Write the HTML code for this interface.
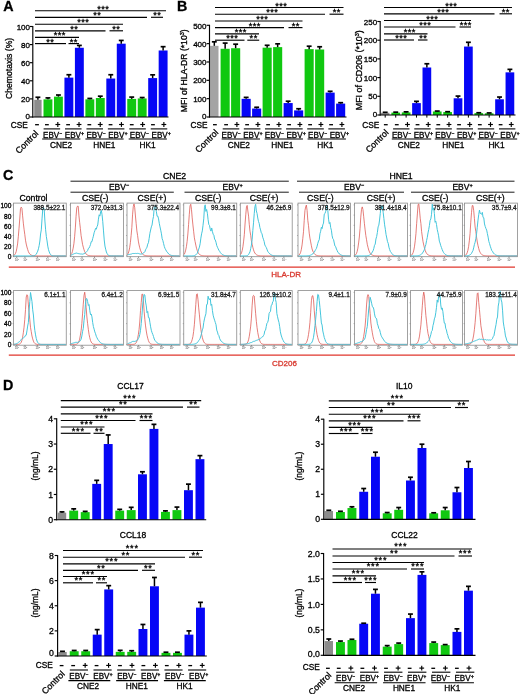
<!DOCTYPE html>
<html lang="en">
<head>
<meta charset="utf-8">
<title>Figure</title>
<style>
html,body{margin:0;padding:0;background:#fff;}
body{width:520px;height:694px;overflow:hidden;}
svg{display:block;}
svg text{font-family:"Liberation Sans",sans-serif;stroke-width:0.3px;stroke:#000;}
</style>
</head>
<body>
<svg width="520" height="694" viewBox="0 0 520 694" fill="#000" stroke="none">
<rect x="0" y="0" width="520" height="694" fill="#ffffff"/>
<text x="3.2" y="10.7" font-size="14.3" font-weight="bold">A</text>
<rect x="34.2" y="99.81" width="7.4" height="17.2" fill="#8c8c8c"/>
<line x1="37.9" y1="99.81" x2="37.9" y2="97.27" stroke="#000000" stroke-width="1.5"/>
<line x1="35.45" y1="97.27" x2="40.35" y2="97.27" stroke="#000000" stroke-width="1.7"/>
<rect x="43.5" y="99.35" width="8.9" height="17.65" fill="#10c810"/>
<line x1="47.95" y1="99.35" x2="47.95" y2="97.9" stroke="#000000" stroke-width="1.5"/>
<line x1="45.5" y1="97.9" x2="50.4" y2="97.9" stroke="#000000" stroke-width="1.7"/>
<rect x="53.97" y="96.64" width="8.9" height="20.36" fill="#10c810"/>
<line x1="58.42" y1="96.64" x2="58.42" y2="95.01" stroke="#000000" stroke-width="1.5"/>
<line x1="55.97" y1="95.01" x2="60.87" y2="95.01" stroke="#000000" stroke-width="1.7"/>
<rect x="64.44" y="77.63" width="8.9" height="39.37" fill="#0606f6"/>
<line x1="68.89" y1="77.63" x2="68.89" y2="74.74" stroke="#000000" stroke-width="1.5"/>
<line x1="66.44" y1="74.74" x2="71.34" y2="74.74" stroke="#000000" stroke-width="1.7"/>
<rect x="74.91" y="47.77" width="8.9" height="69.23" fill="#0606f6"/>
<line x1="79.36" y1="47.77" x2="79.36" y2="45.41" stroke="#000000" stroke-width="1.5"/>
<line x1="76.91" y1="45.41" x2="81.81" y2="45.41" stroke="#000000" stroke-width="1.7"/>
<rect x="85.38" y="99.35" width="8.9" height="17.65" fill="#10c810"/>
<line x1="89.83" y1="99.35" x2="89.83" y2="98.45" stroke="#000000" stroke-width="1.5"/>
<line x1="87.38" y1="98.45" x2="92.28" y2="98.45" stroke="#000000" stroke-width="1.7"/>
<rect x="95.85" y="98" width="8.9" height="19" fill="#10c810"/>
<line x1="100.3" y1="98" x2="100.3" y2="96.19" stroke="#000000" stroke-width="1.5"/>
<line x1="97.85" y1="96.19" x2="102.75" y2="96.19" stroke="#000000" stroke-width="1.7"/>
<rect x="106.32" y="78.54" width="8.9" height="38.46" fill="#0606f6"/>
<line x1="110.77" y1="78.54" x2="110.77" y2="74.74" stroke="#000000" stroke-width="1.5"/>
<line x1="108.32" y1="74.74" x2="113.22" y2="74.74" stroke="#000000" stroke-width="1.7"/>
<rect x="116.79" y="43.69" width="8.9" height="73.31" fill="#0606f6"/>
<line x1="121.24" y1="43.69" x2="121.24" y2="40.44" stroke="#000000" stroke-width="1.5"/>
<line x1="118.79" y1="40.44" x2="123.69" y2="40.44" stroke="#000000" stroke-width="1.7"/>
<rect x="127.26" y="98.9" width="8.9" height="18.1" fill="#10c810"/>
<line x1="131.71" y1="98.9" x2="131.71" y2="97.09" stroke="#000000" stroke-width="1.5"/>
<line x1="129.26" y1="97.09" x2="134.16" y2="97.09" stroke="#000000" stroke-width="1.7"/>
<rect x="137.73" y="98.45" width="8.9" height="18.55" fill="#10c810"/>
<line x1="142.18" y1="98.45" x2="142.18" y2="97.54" stroke="#000000" stroke-width="1.5"/>
<line x1="139.73" y1="97.54" x2="144.63" y2="97.54" stroke="#000000" stroke-width="1.7"/>
<rect x="148.2" y="78.09" width="8.9" height="38.91" fill="#0606f6"/>
<line x1="152.65" y1="78.09" x2="152.65" y2="74.83" stroke="#000000" stroke-width="1.5"/>
<line x1="150.2" y1="74.83" x2="155.1" y2="74.83" stroke="#000000" stroke-width="1.7"/>
<rect x="158.67" y="50.48" width="8.9" height="66.52" fill="#0606f6"/>
<line x1="163.12" y1="50.48" x2="163.12" y2="46.68" stroke="#000000" stroke-width="1.5"/>
<line x1="160.67" y1="46.68" x2="165.57" y2="46.68" stroke="#000000" stroke-width="1.7"/>
<line x1="32.8" y1="26" x2="32.8" y2="117.5" stroke="#000000" stroke-width="1.15"/>
<line x1="32.3" y1="117" x2="168.5" y2="117" stroke="#000000" stroke-width="1.15"/>
<line x1="29.9" y1="117" x2="32.8" y2="117" stroke="#000000" stroke-width="1.15"/>
<text x="30" y="118.7" font-size="8" text-anchor="end">0</text>
<line x1="29.9" y1="98.9" x2="32.8" y2="98.9" stroke="#000000" stroke-width="1.15"/>
<text x="30" y="101.8" font-size="8" text-anchor="end">20</text>
<line x1="29.9" y1="80.8" x2="32.8" y2="80.8" stroke="#000000" stroke-width="1.15"/>
<text x="30" y="83.7" font-size="8" text-anchor="end">40</text>
<line x1="29.9" y1="62.7" x2="32.8" y2="62.7" stroke="#000000" stroke-width="1.15"/>
<text x="30" y="65.6" font-size="8" text-anchor="end">60</text>
<line x1="29.9" y1="44.6" x2="32.8" y2="44.6" stroke="#000000" stroke-width="1.15"/>
<text x="30" y="47.5" font-size="8" text-anchor="end">80</text>
<line x1="29.9" y1="26.5" x2="32.8" y2="26.5" stroke="#000000" stroke-width="1.15"/>
<text x="30" y="30.4" font-size="8" text-anchor="end">100</text>
<text x="11.7" y="68.4" font-size="8.6" text-anchor="middle" transform="rotate(-90 11.7 68.4)">Chemotaxis (%)</text>
<line x1="35" y1="10.7" x2="166" y2="10.7" stroke="#000000" stroke-width="1.15"/>
<text x="103.25" y="11.7" font-size="9.2" text-anchor="middle" letter-spacing="0.5">***</text>
<line x1="35" y1="17.3" x2="147" y2="17.3" stroke="#000000" stroke-width="1.15"/>
<text x="97.25" y="18.3" font-size="9.2" text-anchor="middle" letter-spacing="0.5">**</text>
<line x1="151" y1="17.3" x2="163" y2="17.3" stroke="#000000" stroke-width="1.15"/>
<text x="157.25" y="18.3" font-size="9.2" text-anchor="middle" letter-spacing="0.5">**</text>
<line x1="35" y1="24.2" x2="123" y2="24.2" stroke="#000000" stroke-width="1.15"/>
<text x="83.25" y="25.2" font-size="9.2" text-anchor="middle" letter-spacing="0.5">***</text>
<line x1="35" y1="30.8" x2="105.5" y2="30.8" stroke="#000000" stroke-width="1.15"/>
<text x="74.25" y="31.8" font-size="9.2" text-anchor="middle" letter-spacing="0.5">**</text>
<line x1="109.5" y1="30.8" x2="123" y2="30.8" stroke="#000000" stroke-width="1.15"/>
<text x="116.25" y="31.8" font-size="9.2" text-anchor="middle" letter-spacing="0.5">**</text>
<line x1="35" y1="37.4" x2="79" y2="37.4" stroke="#000000" stroke-width="1.15"/>
<text x="59.75" y="38.4" font-size="9.2" text-anchor="middle" letter-spacing="0.5">***</text>
<line x1="35" y1="43.6" x2="66" y2="43.6" stroke="#000000" stroke-width="1.15"/>
<text x="50.25" y="44.6" font-size="9.2" text-anchor="middle" letter-spacing="0.5">**</text>
<line x1="68.5" y1="43.6" x2="79" y2="43.6" stroke="#000000" stroke-width="1.15"/>
<text x="73.75" y="44.6" font-size="9.2" text-anchor="middle" letter-spacing="0.5">**</text>
<text x="27.9" y="127.5" font-size="8.3" text-anchor="end">CSE</text>
<line x1="35.1" y1="124.7" x2="38.9" y2="124.7" stroke="#000000" stroke-width="1.3"/>
<line x1="45" y1="124.7" x2="48.8" y2="124.7" stroke="#000000" stroke-width="1.3"/>
<line x1="55.41" y1="124.5" x2="60.21" y2="124.5" stroke="#000000" stroke-width="1.15"/>
<line x1="57.81" y1="122.1" x2="57.81" y2="126.9" stroke="#000000" stroke-width="1.15"/>
<line x1="66.21" y1="124.7" x2="70.01" y2="124.7" stroke="#000000" stroke-width="1.3"/>
<line x1="76.62" y1="124.5" x2="81.42" y2="124.5" stroke="#000000" stroke-width="1.15"/>
<line x1="79.02" y1="122.1" x2="79.02" y2="126.9" stroke="#000000" stroke-width="1.15"/>
<line x1="87.42" y1="124.7" x2="91.22" y2="124.7" stroke="#000000" stroke-width="1.3"/>
<line x1="97.83" y1="124.5" x2="102.63" y2="124.5" stroke="#000000" stroke-width="1.15"/>
<line x1="100.23" y1="122.1" x2="100.23" y2="126.9" stroke="#000000" stroke-width="1.15"/>
<line x1="108.64" y1="124.7" x2="112.44" y2="124.7" stroke="#000000" stroke-width="1.3"/>
<line x1="119.04" y1="124.5" x2="123.84" y2="124.5" stroke="#000000" stroke-width="1.15"/>
<line x1="121.44" y1="122.1" x2="121.44" y2="126.9" stroke="#000000" stroke-width="1.15"/>
<line x1="129.85" y1="124.7" x2="133.65" y2="124.7" stroke="#000000" stroke-width="1.3"/>
<line x1="140.25" y1="124.5" x2="145.05" y2="124.5" stroke="#000000" stroke-width="1.15"/>
<line x1="142.65" y1="122.1" x2="142.65" y2="126.9" stroke="#000000" stroke-width="1.15"/>
<line x1="151.06" y1="124.7" x2="154.86" y2="124.7" stroke="#000000" stroke-width="1.3"/>
<line x1="161.47" y1="124.5" x2="166.27" y2="124.5" stroke="#000000" stroke-width="1.15"/>
<line x1="163.87" y1="122.1" x2="163.87" y2="126.9" stroke="#000000" stroke-width="1.15"/>
<line x1="43.6" y1="128.9" x2="60.14" y2="128.9" stroke="#000000" stroke-width="1.1"/>
<text x="43.05" y="137.8" font-size="8.2" textLength="16.2" lengthAdjust="spacingAndGlyphs">EBV</text>
<text x="59.55" y="134.6" font-size="4.6" font-weight="bold">−</text>
<line x1="65.02" y1="128.9" x2="81.56" y2="128.9" stroke="#000000" stroke-width="1.1"/>
<text x="64.74" y="137.8" font-size="8.2" textLength="16.2" lengthAdjust="spacingAndGlyphs">EBV</text>
<text x="81.24" y="134.6" font-size="4.6" font-weight="bold">+</text>
<line x1="86.44" y1="128.9" x2="102.99" y2="128.9" stroke="#000000" stroke-width="1.1"/>
<text x="86.44" y="137.8" font-size="8.2" textLength="16.2" lengthAdjust="spacingAndGlyphs">EBV</text>
<text x="102.94" y="134.6" font-size="4.6" font-weight="bold">−</text>
<line x1="107.86" y1="128.9" x2="124.41" y2="128.9" stroke="#000000" stroke-width="1.1"/>
<text x="108.13" y="137.8" font-size="8.2" textLength="16.2" lengthAdjust="spacingAndGlyphs">EBV</text>
<text x="124.63" y="134.6" font-size="4.6" font-weight="bold">+</text>
<line x1="129.29" y1="128.9" x2="145.83" y2="128.9" stroke="#000000" stroke-width="1.1"/>
<text x="129.83" y="137.8" font-size="8.2" textLength="16.2" lengthAdjust="spacingAndGlyphs">EBV</text>
<text x="146.33" y="134.6" font-size="4.6" font-weight="bold">−</text>
<line x1="150.71" y1="128.9" x2="167.25" y2="128.9" stroke="#000000" stroke-width="1.1"/>
<text x="151.52" y="137.8" font-size="8.2" textLength="16.2" lengthAdjust="spacingAndGlyphs">EBV</text>
<text x="168.02" y="134.6" font-size="4.6" font-weight="bold">+</text>
<line x1="42.15" y1="139" x2="80.37" y2="139" stroke="#000000" stroke-width="1.1"/>
<text x="61.09" y="148.2" font-size="8.3" text-anchor="middle">CNE2</text>
<line x1="85.41" y1="139" x2="123.63" y2="139" stroke="#000000" stroke-width="1.1"/>
<text x="104.35" y="148.2" font-size="8.3" text-anchor="middle">HNE1</text>
<line x1="128.67" y1="139" x2="166.89" y2="139" stroke="#000000" stroke-width="1.1"/>
<text x="147.61" y="148.2" font-size="8.3" text-anchor="middle">HK1</text>
<text x="39" y="134.2" font-size="8.8" text-anchor="end" transform="rotate(-45 39 134.2)">Control</text>
<text x="177" y="10.6" font-size="14.3" font-weight="bold">B</text>
<rect x="210.1" y="45.84" width="8.4" height="71.16" fill="#a4a4a4"/>
<line x1="214.3" y1="45.84" x2="214.3" y2="41.81" stroke="#000000" stroke-width="1.5"/>
<line x1="211.85" y1="41.81" x2="216.75" y2="41.81" stroke="#000000" stroke-width="1.7"/>
<rect x="220.6" y="48.78" width="9.1" height="68.22" fill="#10c810"/>
<line x1="225.15" y1="48.78" x2="225.15" y2="43.09" stroke="#000000" stroke-width="1.5"/>
<line x1="222.7" y1="43.09" x2="227.6" y2="43.09" stroke="#000000" stroke-width="1.7"/>
<rect x="231.1" y="48.22" width="9.1" height="68.78" fill="#10c810"/>
<line x1="235.65" y1="48.22" x2="235.65" y2="44.19" stroke="#000000" stroke-width="1.5"/>
<line x1="233.2" y1="44.19" x2="238.1" y2="44.19" stroke="#000000" stroke-width="1.7"/>
<rect x="241.6" y="98.84" width="9.1" height="18.16" fill="#0606f6"/>
<line x1="246.15" y1="98.84" x2="246.15" y2="97.38" stroke="#000000" stroke-width="1.5"/>
<line x1="243.7" y1="97.38" x2="248.6" y2="97.38" stroke="#000000" stroke-width="1.7"/>
<rect x="252.1" y="108.56" width="9.1" height="8.44" fill="#0606f6"/>
<line x1="256.65" y1="108.56" x2="256.65" y2="107.28" stroke="#000000" stroke-width="1.5"/>
<line x1="254.2" y1="107.28" x2="259.1" y2="107.28" stroke="#000000" stroke-width="1.7"/>
<rect x="262.6" y="47.67" width="9.1" height="69.33" fill="#10c810"/>
<line x1="267.15" y1="47.67" x2="267.15" y2="45.29" stroke="#000000" stroke-width="1.5"/>
<line x1="264.7" y1="45.29" x2="269.6" y2="45.29" stroke="#000000" stroke-width="1.7"/>
<rect x="273.1" y="47.12" width="9.1" height="69.88" fill="#10c810"/>
<line x1="277.65" y1="47.12" x2="277.65" y2="43.82" stroke="#000000" stroke-width="1.5"/>
<line x1="275.2" y1="43.82" x2="280.1" y2="43.82" stroke="#000000" stroke-width="1.7"/>
<rect x="283.6" y="103.06" width="9.1" height="13.94" fill="#0606f6"/>
<line x1="288.15" y1="103.06" x2="288.15" y2="101.23" stroke="#000000" stroke-width="1.5"/>
<line x1="285.7" y1="101.23" x2="290.6" y2="101.23" stroke="#000000" stroke-width="1.7"/>
<rect x="294.1" y="110.4" width="9.1" height="6.6" fill="#0606f6"/>
<line x1="298.65" y1="110.4" x2="298.65" y2="108.75" stroke="#000000" stroke-width="1.5"/>
<line x1="296.2" y1="108.75" x2="301.1" y2="108.75" stroke="#000000" stroke-width="1.7"/>
<rect x="304.6" y="49.14" width="9.1" height="67.86" fill="#10c810"/>
<line x1="309.15" y1="49.14" x2="309.15" y2="46.21" stroke="#000000" stroke-width="1.5"/>
<line x1="306.7" y1="46.21" x2="311.6" y2="46.21" stroke="#000000" stroke-width="1.7"/>
<rect x="315.1" y="49.51" width="9.1" height="67.49" fill="#10c810"/>
<line x1="319.65" y1="49.51" x2="319.65" y2="46.76" stroke="#000000" stroke-width="1.5"/>
<line x1="317.2" y1="46.76" x2="322.1" y2="46.76" stroke="#000000" stroke-width="1.7"/>
<rect x="325.6" y="92.61" width="9.1" height="24.39" fill="#0606f6"/>
<line x1="330.15" y1="92.61" x2="330.15" y2="91.32" stroke="#000000" stroke-width="1.5"/>
<line x1="327.7" y1="91.32" x2="332.6" y2="91.32" stroke="#000000" stroke-width="1.7"/>
<rect x="336.1" y="103.61" width="9.1" height="13.39" fill="#0606f6"/>
<line x1="340.65" y1="103.61" x2="340.65" y2="102.69" stroke="#000000" stroke-width="1.5"/>
<line x1="338.2" y1="102.69" x2="343.1" y2="102.69" stroke="#000000" stroke-width="1.7"/>
<line x1="209.5" y1="24.8" x2="209.5" y2="117.5" stroke="#000000" stroke-width="1.15"/>
<line x1="209" y1="117" x2="346.5" y2="117" stroke="#000000" stroke-width="1.15"/>
<line x1="206.6" y1="117" x2="209.5" y2="117" stroke="#000000" stroke-width="1.15"/>
<text x="206.5" y="118.7" font-size="8" text-anchor="end">0</text>
<line x1="206.6" y1="98.66" x2="209.5" y2="98.66" stroke="#000000" stroke-width="1.15"/>
<text x="206.5" y="101.56" font-size="8" text-anchor="end">100</text>
<line x1="206.6" y1="80.32" x2="209.5" y2="80.32" stroke="#000000" stroke-width="1.15"/>
<text x="206.5" y="83.22" font-size="8" text-anchor="end">200</text>
<line x1="206.6" y1="61.98" x2="209.5" y2="61.98" stroke="#000000" stroke-width="1.15"/>
<text x="206.5" y="64.88" font-size="8" text-anchor="end">300</text>
<line x1="206.6" y1="43.64" x2="209.5" y2="43.64" stroke="#000000" stroke-width="1.15"/>
<text x="206.5" y="46.54" font-size="8" text-anchor="end">400</text>
<line x1="206.6" y1="25.3" x2="209.5" y2="25.3" stroke="#000000" stroke-width="1.15"/>
<text x="206.5" y="29.2" font-size="8" text-anchor="end">500</text>
<text x="186.8" y="70.8" font-size="8.6" text-anchor="middle" transform="rotate(-90 186.8 70.8)">MFI of HLA-DR (*10<tspan font-size="5.5" dy="-3">3</tspan><tspan dy="3">)</tspan></text>
<line x1="215" y1="7.5" x2="343.5" y2="7.5" stroke="#000000" stroke-width="1.15"/>
<text x="281.25" y="8.5" font-size="9.2" text-anchor="middle" letter-spacing="0.5">***</text>
<line x1="215" y1="14.2" x2="325" y2="14.2" stroke="#000000" stroke-width="1.15"/>
<text x="272.25" y="15.2" font-size="9.2" text-anchor="middle" letter-spacing="0.5">***</text>
<line x1="329.5" y1="14.2" x2="343.5" y2="14.2" stroke="#000000" stroke-width="1.15"/>
<text x="336.75" y="15.2" font-size="9.2" text-anchor="middle" letter-spacing="0.5">**</text>
<line x1="215" y1="21" x2="302.5" y2="21" stroke="#000000" stroke-width="1.15"/>
<text x="262.25" y="22" font-size="9.2" text-anchor="middle" letter-spacing="0.5">***</text>
<line x1="215" y1="27.6" x2="284" y2="27.6" stroke="#000000" stroke-width="1.15"/>
<text x="254.75" y="28.6" font-size="9.2" text-anchor="middle" letter-spacing="0.5">***</text>
<line x1="288.5" y1="27.6" x2="302.5" y2="27.6" stroke="#000000" stroke-width="1.15"/>
<text x="295.75" y="28.6" font-size="9.2" text-anchor="middle" letter-spacing="0.5">**</text>
<line x1="215" y1="33.8" x2="259" y2="33.8" stroke="#000000" stroke-width="1.15"/>
<text x="240.75" y="34.8" font-size="9.2" text-anchor="middle" letter-spacing="0.5">***</text>
<line x1="215" y1="40.2" x2="244.5" y2="40.2" stroke="#000000" stroke-width="1.15"/>
<text x="232.25" y="41.2" font-size="9.2" text-anchor="middle" letter-spacing="0.5">***</text>
<line x1="247.3" y1="40.2" x2="259.2" y2="40.2" stroke="#000000" stroke-width="1.15"/>
<text x="253.65" y="41.2" font-size="9.2" text-anchor="middle" letter-spacing="0.5">**</text>
<text x="207.5" y="127.5" font-size="8.3" text-anchor="end">CSE</text>
<line x1="213" y1="124.7" x2="216.8" y2="124.7" stroke="#000000" stroke-width="1.3"/>
<line x1="224.2" y1="124.7" x2="228" y2="124.7" stroke="#000000" stroke-width="1.3"/>
<line x1="234.5" y1="124.5" x2="239.3" y2="124.5" stroke="#000000" stroke-width="1.15"/>
<line x1="236.9" y1="122.1" x2="236.9" y2="126.9" stroke="#000000" stroke-width="1.15"/>
<line x1="245.2" y1="124.7" x2="249" y2="124.7" stroke="#000000" stroke-width="1.3"/>
<line x1="255.5" y1="124.5" x2="260.3" y2="124.5" stroke="#000000" stroke-width="1.15"/>
<line x1="257.9" y1="122.1" x2="257.9" y2="126.9" stroke="#000000" stroke-width="1.15"/>
<line x1="266.2" y1="124.7" x2="270" y2="124.7" stroke="#000000" stroke-width="1.3"/>
<line x1="276.5" y1="124.5" x2="281.3" y2="124.5" stroke="#000000" stroke-width="1.15"/>
<line x1="278.9" y1="122.1" x2="278.9" y2="126.9" stroke="#000000" stroke-width="1.15"/>
<line x1="287.2" y1="124.7" x2="291" y2="124.7" stroke="#000000" stroke-width="1.3"/>
<line x1="297.5" y1="124.5" x2="302.3" y2="124.5" stroke="#000000" stroke-width="1.15"/>
<line x1="299.9" y1="122.1" x2="299.9" y2="126.9" stroke="#000000" stroke-width="1.15"/>
<line x1="308.2" y1="124.7" x2="312" y2="124.7" stroke="#000000" stroke-width="1.3"/>
<line x1="318.5" y1="124.5" x2="323.3" y2="124.5" stroke="#000000" stroke-width="1.15"/>
<line x1="320.9" y1="122.1" x2="320.9" y2="126.9" stroke="#000000" stroke-width="1.15"/>
<line x1="329.2" y1="124.7" x2="333" y2="124.7" stroke="#000000" stroke-width="1.3"/>
<line x1="339.5" y1="124.5" x2="344.3" y2="124.5" stroke="#000000" stroke-width="1.15"/>
<line x1="341.9" y1="122.1" x2="341.9" y2="126.9" stroke="#000000" stroke-width="1.15"/>
<line x1="222.7" y1="128.9" x2="239.29" y2="128.9" stroke="#000000" stroke-width="1.1"/>
<text x="221.5" y="137.8" font-size="8.2" textLength="16.2" lengthAdjust="spacingAndGlyphs">EBV</text>
<text x="238" y="134.6" font-size="4.6" font-weight="bold">−</text>
<line x1="243.83" y1="128.9" x2="260.42" y2="128.9" stroke="#000000" stroke-width="1.1"/>
<text x="243.13" y="137.8" font-size="8.2" textLength="16.2" lengthAdjust="spacingAndGlyphs">EBV</text>
<text x="259.63" y="134.6" font-size="4.6" font-weight="bold">+</text>
<line x1="264.95" y1="128.9" x2="281.54" y2="128.9" stroke="#000000" stroke-width="1.1"/>
<text x="264.76" y="137.8" font-size="8.2" textLength="16.2" lengthAdjust="spacingAndGlyphs">EBV</text>
<text x="281.26" y="134.6" font-size="4.6" font-weight="bold">−</text>
<line x1="286.08" y1="128.9" x2="302.67" y2="128.9" stroke="#000000" stroke-width="1.1"/>
<text x="286.39" y="137.8" font-size="8.2" textLength="16.2" lengthAdjust="spacingAndGlyphs">EBV</text>
<text x="302.89" y="134.6" font-size="4.6" font-weight="bold">+</text>
<line x1="307.2" y1="128.9" x2="323.79" y2="128.9" stroke="#000000" stroke-width="1.1"/>
<text x="308.02" y="137.8" font-size="8.2" textLength="16.2" lengthAdjust="spacingAndGlyphs">EBV</text>
<text x="324.52" y="134.6" font-size="4.6" font-weight="bold">−</text>
<line x1="328.33" y1="128.9" x2="344.92" y2="128.9" stroke="#000000" stroke-width="1.1"/>
<text x="329.65" y="137.8" font-size="8.2" textLength="16.2" lengthAdjust="spacingAndGlyphs">EBV</text>
<text x="346.15" y="134.6" font-size="4.6" font-weight="bold">+</text>
<line x1="221.65" y1="139" x2="259.98" y2="139" stroke="#000000" stroke-width="1.1"/>
<text x="238.74" y="148.2" font-size="8.3" text-anchor="middle">CNE2</text>
<line x1="264.62" y1="139" x2="302.94" y2="139" stroke="#000000" stroke-width="1.1"/>
<text x="282.31" y="148.2" font-size="8.3" text-anchor="middle">HNE1</text>
<line x1="307.58" y1="139" x2="345.91" y2="139" stroke="#000000" stroke-width="1.1"/>
<text x="325.27" y="148.2" font-size="8.3" text-anchor="middle">HK1</text>
<text x="218.8" y="133.2" font-size="8.8" text-anchor="end" transform="rotate(-45 218.8 133.2)">Control</text>
<rect x="381" y="112.76" width="8.4" height="2.24" fill="#8c8c8c"/>
<line x1="385.2" y1="112.76" x2="385.2" y2="112.31" stroke="#000000" stroke-width="1.5"/>
<line x1="382.75" y1="112.31" x2="387.65" y2="112.31" stroke="#000000" stroke-width="1.7"/>
<rect x="391.38" y="112.61" width="8.7" height="2.39" fill="#10c810"/>
<line x1="395.73" y1="112.61" x2="395.73" y2="112.16" stroke="#000000" stroke-width="1.5"/>
<line x1="393.28" y1="112.16" x2="398.18" y2="112.16" stroke="#000000" stroke-width="1.7"/>
<rect x="401.76" y="112.42" width="8.7" height="2.58" fill="#10c810"/>
<line x1="406.11" y1="112.42" x2="406.11" y2="111.86" stroke="#000000" stroke-width="1.5"/>
<line x1="403.66" y1="111.86" x2="408.56" y2="111.86" stroke="#000000" stroke-width="1.7"/>
<rect x="412.14" y="103.11" width="8.7" height="11.89" fill="#0606f6"/>
<line x1="416.49" y1="103.11" x2="416.49" y2="101.35" stroke="#000000" stroke-width="1.5"/>
<line x1="414.04" y1="101.35" x2="418.94" y2="101.35" stroke="#000000" stroke-width="1.7"/>
<rect x="422.52" y="67.5" width="8.7" height="47.5" fill="#0606f6"/>
<line x1="426.87" y1="67.5" x2="426.87" y2="63.76" stroke="#000000" stroke-width="1.5"/>
<line x1="424.42" y1="63.76" x2="429.32" y2="63.76" stroke="#000000" stroke-width="1.7"/>
<rect x="432.9" y="111.48" width="8.7" height="3.52" fill="#10c810"/>
<line x1="437.25" y1="111.48" x2="437.25" y2="111.07" stroke="#000000" stroke-width="1.5"/>
<line x1="434.8" y1="111.07" x2="439.7" y2="111.07" stroke="#000000" stroke-width="1.7"/>
<rect x="443.28" y="112.05" width="8.7" height="2.95" fill="#10c810"/>
<line x1="447.63" y1="112.05" x2="447.63" y2="111.71" stroke="#000000" stroke-width="1.5"/>
<line x1="445.18" y1="111.71" x2="450.08" y2="111.71" stroke="#000000" stroke-width="1.7"/>
<rect x="453.66" y="98.28" width="8.7" height="16.72" fill="#0606f6"/>
<line x1="458.01" y1="98.28" x2="458.01" y2="96.08" stroke="#000000" stroke-width="1.5"/>
<line x1="455.56" y1="96.08" x2="460.46" y2="96.08" stroke="#000000" stroke-width="1.7"/>
<rect x="464.04" y="46.56" width="8.7" height="68.44" fill="#0606f6"/>
<line x1="468.39" y1="46.56" x2="468.39" y2="42.29" stroke="#000000" stroke-width="1.5"/>
<line x1="465.94" y1="42.29" x2="470.84" y2="42.29" stroke="#000000" stroke-width="1.7"/>
<rect x="474.42" y="113.13" width="8.7" height="1.87" fill="#10c810"/>
<line x1="478.77" y1="113.13" x2="478.77" y2="112.76" stroke="#000000" stroke-width="1.5"/>
<line x1="476.32" y1="112.76" x2="481.22" y2="112.76" stroke="#000000" stroke-width="1.7"/>
<rect x="484.8" y="113.32" width="8.7" height="1.68" fill="#10c810"/>
<line x1="489.15" y1="113.32" x2="489.15" y2="112.94" stroke="#000000" stroke-width="1.5"/>
<line x1="486.7" y1="112.94" x2="491.6" y2="112.94" stroke="#000000" stroke-width="1.7"/>
<rect x="495.18" y="99.29" width="8.7" height="15.71" fill="#0606f6"/>
<line x1="499.53" y1="99.29" x2="499.53" y2="97.05" stroke="#000000" stroke-width="1.5"/>
<line x1="497.08" y1="97.05" x2="501.98" y2="97.05" stroke="#000000" stroke-width="1.7"/>
<rect x="505.56" y="72.36" width="8.7" height="42.64" fill="#0606f6"/>
<line x1="509.91" y1="72.36" x2="509.91" y2="69.37" stroke="#000000" stroke-width="1.5"/>
<line x1="507.46" y1="69.37" x2="512.36" y2="69.37" stroke="#000000" stroke-width="1.7"/>
<line x1="380.2" y1="21" x2="380.2" y2="115.5" stroke="#000000" stroke-width="1.15"/>
<line x1="379.7" y1="115" x2="515.5" y2="115" stroke="#000000" stroke-width="1.15"/>
<line x1="377.3" y1="115" x2="380.2" y2="115" stroke="#000000" stroke-width="1.15"/>
<text x="377.2" y="116.9" font-size="8" text-anchor="end">0</text>
<line x1="377.3" y1="96.3" x2="380.2" y2="96.3" stroke="#000000" stroke-width="1.15"/>
<text x="377.2" y="99.2" font-size="8" text-anchor="end">50</text>
<line x1="377.3" y1="77.6" x2="380.2" y2="77.6" stroke="#000000" stroke-width="1.15"/>
<text x="377.2" y="80.5" font-size="8" text-anchor="end">100</text>
<line x1="377.3" y1="58.9" x2="380.2" y2="58.9" stroke="#000000" stroke-width="1.15"/>
<text x="377.2" y="61.8" font-size="8" text-anchor="end">150</text>
<line x1="377.3" y1="40.2" x2="380.2" y2="40.2" stroke="#000000" stroke-width="1.15"/>
<text x="377.2" y="43.1" font-size="8" text-anchor="end">200</text>
<line x1="377.3" y1="21.5" x2="380.2" y2="21.5" stroke="#000000" stroke-width="1.15"/>
<text x="377.2" y="25.2" font-size="8" text-anchor="end">250</text>
<line x1="385.2" y1="115" x2="385.2" y2="117.6" stroke="#000000" stroke-width="1"/>
<line x1="395.73" y1="115" x2="395.73" y2="117.6" stroke="#000000" stroke-width="1"/>
<line x1="406.11" y1="115" x2="406.11" y2="117.6" stroke="#000000" stroke-width="1"/>
<line x1="416.49" y1="115" x2="416.49" y2="117.6" stroke="#000000" stroke-width="1"/>
<line x1="426.87" y1="115" x2="426.87" y2="117.6" stroke="#000000" stroke-width="1"/>
<line x1="437.25" y1="115" x2="437.25" y2="117.6" stroke="#000000" stroke-width="1"/>
<line x1="447.63" y1="115" x2="447.63" y2="117.6" stroke="#000000" stroke-width="1"/>
<line x1="458.01" y1="115" x2="458.01" y2="117.6" stroke="#000000" stroke-width="1"/>
<line x1="468.39" y1="115" x2="468.39" y2="117.6" stroke="#000000" stroke-width="1"/>
<line x1="478.77" y1="115" x2="478.77" y2="117.6" stroke="#000000" stroke-width="1"/>
<line x1="489.15" y1="115" x2="489.15" y2="117.6" stroke="#000000" stroke-width="1"/>
<line x1="499.53" y1="115" x2="499.53" y2="117.6" stroke="#000000" stroke-width="1"/>
<line x1="509.91" y1="115" x2="509.91" y2="117.6" stroke="#000000" stroke-width="1"/>
<text x="361.6" y="70.2" font-size="8.9" text-anchor="middle" transform="rotate(-90 361.6 70.2)">MFI of CD206 (*10<tspan font-size="5.5" dy="-3">3</tspan><tspan dy="3">)</tspan></text>
<line x1="384" y1="7.5" x2="512" y2="7.5" stroke="#000000" stroke-width="1.15"/>
<text x="451.25" y="8.5" font-size="9.2" text-anchor="middle" letter-spacing="0.5">***</text>
<line x1="384" y1="13.8" x2="494.5" y2="13.8" stroke="#000000" stroke-width="1.15"/>
<text x="443.25" y="14.8" font-size="9.2" text-anchor="middle" letter-spacing="0.5">***</text>
<line x1="499.5" y1="13.8" x2="512" y2="13.8" stroke="#000000" stroke-width="1.15"/>
<text x="505.75" y="14.8" font-size="9.2" text-anchor="middle" letter-spacing="0.5">**</text>
<line x1="384" y1="20.5" x2="471" y2="20.5" stroke="#000000" stroke-width="1.15"/>
<text x="432.25" y="21.5" font-size="9.2" text-anchor="middle" letter-spacing="0.5">***</text>
<line x1="384" y1="27" x2="455.5" y2="27" stroke="#000000" stroke-width="1.15"/>
<text x="425.25" y="28" font-size="9.2" text-anchor="middle" letter-spacing="0.5">***</text>
<line x1="459.5" y1="27" x2="471" y2="27" stroke="#000000" stroke-width="1.15"/>
<text x="465.75" y="28" font-size="9.2" text-anchor="middle" letter-spacing="0.5">***</text>
<line x1="384" y1="33.8" x2="427.5" y2="33.8" stroke="#000000" stroke-width="1.15"/>
<text x="409.75" y="34.8" font-size="9.2" text-anchor="middle" letter-spacing="0.5">***</text>
<line x1="384" y1="40" x2="414" y2="40" stroke="#000000" stroke-width="1.15"/>
<text x="401.25" y="41" font-size="9.2" text-anchor="middle" letter-spacing="0.5">***</text>
<line x1="418" y1="40" x2="427.5" y2="40" stroke="#000000" stroke-width="1.15"/>
<text x="423.25" y="41" font-size="9.2" text-anchor="middle" letter-spacing="0.5">**</text>
<text x="379.3" y="127.5" font-size="8.3" text-anchor="end">CSE</text>
<line x1="383.9" y1="124.7" x2="387.7" y2="124.7" stroke="#000000" stroke-width="1.3"/>
<line x1="394.88" y1="124.7" x2="398.68" y2="124.7" stroke="#000000" stroke-width="1.3"/>
<line x1="405.06" y1="124.5" x2="409.86" y2="124.5" stroke="#000000" stroke-width="1.15"/>
<line x1="407.46" y1="122.1" x2="407.46" y2="126.9" stroke="#000000" stroke-width="1.15"/>
<line x1="415.64" y1="124.7" x2="419.44" y2="124.7" stroke="#000000" stroke-width="1.3"/>
<line x1="425.82" y1="124.5" x2="430.62" y2="124.5" stroke="#000000" stroke-width="1.15"/>
<line x1="428.22" y1="122.1" x2="428.22" y2="126.9" stroke="#000000" stroke-width="1.15"/>
<line x1="436.4" y1="124.7" x2="440.2" y2="124.7" stroke="#000000" stroke-width="1.3"/>
<line x1="446.58" y1="124.5" x2="451.38" y2="124.5" stroke="#000000" stroke-width="1.15"/>
<line x1="448.98" y1="122.1" x2="448.98" y2="126.9" stroke="#000000" stroke-width="1.15"/>
<line x1="457.16" y1="124.7" x2="460.96" y2="124.7" stroke="#000000" stroke-width="1.3"/>
<line x1="467.34" y1="124.5" x2="472.14" y2="124.5" stroke="#000000" stroke-width="1.15"/>
<line x1="469.74" y1="122.1" x2="469.74" y2="126.9" stroke="#000000" stroke-width="1.15"/>
<line x1="477.92" y1="124.7" x2="481.72" y2="124.7" stroke="#000000" stroke-width="1.3"/>
<line x1="488.1" y1="124.5" x2="492.9" y2="124.5" stroke="#000000" stroke-width="1.15"/>
<line x1="490.5" y1="122.1" x2="490.5" y2="126.9" stroke="#000000" stroke-width="1.15"/>
<line x1="498.68" y1="124.7" x2="502.48" y2="124.7" stroke="#000000" stroke-width="1.3"/>
<line x1="508.86" y1="124.5" x2="513.66" y2="124.5" stroke="#000000" stroke-width="1.15"/>
<line x1="511.26" y1="122.1" x2="511.26" y2="126.9" stroke="#000000" stroke-width="1.15"/>
<line x1="393.08" y1="128.9" x2="409.48" y2="128.9" stroke="#000000" stroke-width="1.1"/>
<text x="391.98" y="137.8" font-size="8.2" textLength="16.2" lengthAdjust="spacingAndGlyphs">EBV</text>
<text x="408.48" y="134.6" font-size="4.6" font-weight="bold">−</text>
<line x1="414.26" y1="128.9" x2="430.66" y2="128.9" stroke="#000000" stroke-width="1.1"/>
<text x="413.63" y="137.8" font-size="8.2" textLength="16.2" lengthAdjust="spacingAndGlyphs">EBV</text>
<text x="430.13" y="134.6" font-size="4.6" font-weight="bold">+</text>
<line x1="435.43" y1="128.9" x2="451.83" y2="128.9" stroke="#000000" stroke-width="1.1"/>
<text x="435.29" y="137.8" font-size="8.2" textLength="16.2" lengthAdjust="spacingAndGlyphs">EBV</text>
<text x="451.79" y="134.6" font-size="4.6" font-weight="bold">−</text>
<line x1="456.61" y1="128.9" x2="473.01" y2="128.9" stroke="#000000" stroke-width="1.1"/>
<text x="456.94" y="137.8" font-size="8.2" textLength="16.2" lengthAdjust="spacingAndGlyphs">EBV</text>
<text x="473.44" y="134.6" font-size="4.6" font-weight="bold">+</text>
<line x1="477.78" y1="128.9" x2="494.18" y2="128.9" stroke="#000000" stroke-width="1.1"/>
<text x="478.59" y="137.8" font-size="8.2" textLength="16.2" lengthAdjust="spacingAndGlyphs">EBV</text>
<text x="495.09" y="134.6" font-size="4.6" font-weight="bold">−</text>
<line x1="498.96" y1="128.9" x2="515.36" y2="128.9" stroke="#000000" stroke-width="1.1"/>
<text x="500.24" y="137.8" font-size="8.2" textLength="16.2" lengthAdjust="spacingAndGlyphs">EBV</text>
<text x="516.74" y="134.6" font-size="4.6" font-weight="bold">+</text>
<line x1="391.78" y1="139" x2="431.22" y2="139" stroke="#000000" stroke-width="1.1"/>
<text x="408.82" y="148.2" font-size="8.3" text-anchor="middle">CNE2</text>
<line x1="434.75" y1="139" x2="474.2" y2="139" stroke="#000000" stroke-width="1.1"/>
<text x="453.29" y="148.2" font-size="8.3" text-anchor="middle">HNE1</text>
<line x1="477.73" y1="139" x2="517.17" y2="139" stroke="#000000" stroke-width="1.1"/>
<text x="496.46" y="148.2" font-size="8.3" text-anchor="middle">HK1</text>
<text x="389.2" y="133.2" font-size="8.8" text-anchor="end" transform="rotate(-45 389.2 133.2)">Control</text>
<text x="3" y="180.4" font-size="14.3" font-weight="bold">C</text>
<text x="174.6" y="179" font-size="8.7" text-anchor="middle">CNE2</text>
<line x1="70.5" y1="181.2" x2="288.8" y2="181.2" stroke="#000000" stroke-width="0.9"/>
<text x="401" y="179" font-size="8.7" text-anchor="middle">HNE1</text>
<line x1="297" y1="181.2" x2="514.5" y2="181.2" stroke="#000000" stroke-width="0.9"/>
<text x="119" y="190.2" font-size="8.5" text-anchor="middle">EBV<tspan font-size="5.5" dy="-3.2">−</tspan></text>
<line x1="70.5" y1="192.2" x2="173.8" y2="192.2" stroke="#000000" stroke-width="0.9"/>
<text x="232.6" y="190.2" font-size="8.5" text-anchor="middle">EBV<tspan font-size="5.5" dy="-3.2">+</tspan></text>
<line x1="184.5" y1="192.2" x2="288.8" y2="192.2" stroke="#000000" stroke-width="0.9"/>
<text x="354" y="190.2" font-size="8.5" text-anchor="middle">EBV<tspan font-size="5.5" dy="-3.2">−</tspan></text>
<line x1="299" y1="192.2" x2="404" y2="192.2" stroke="#000000" stroke-width="0.9"/>
<text x="462.5" y="190.2" font-size="8.5" text-anchor="middle">EBV<tspan font-size="5.5" dy="-3.2">+</tspan></text>
<line x1="411" y1="192.2" x2="514.5" y2="192.2" stroke="#000000" stroke-width="0.9"/>
<text x="33.5" y="201" font-size="8.7" text-anchor="middle">Control</text>
<text x="95.2" y="201" font-size="8.7" text-anchor="middle">CSE(-)</text>
<text x="151.95" y="201" font-size="8.7" text-anchor="middle">CSE(+)</text>
<text x="208.25" y="201" font-size="8.7" text-anchor="middle">CSE(-)</text>
<text x="264.05" y="201" font-size="8.7" text-anchor="middle">CSE(+)</text>
<text x="320.35" y="201" font-size="8.7" text-anchor="middle">CSE(-)</text>
<text x="381.1" y="201" font-size="8.7" text-anchor="middle">CSE(+)</text>
<text x="435.25" y="201" font-size="8.7" text-anchor="middle">CSE(-)</text>
<text x="490.3" y="201" font-size="8.7" text-anchor="middle">CSE(+)</text>
<rect x="13.5" y="203.1" width="52.75" height="53.6" fill="none" stroke="#8a8a8a" stroke-width="0.8"/>
<polyline points="14,255.37 14.72,254.73 15.44,253.56 16.16,251.6 16.88,248.15 17.59,243.93 18.31,236.81 19.03,228.3 19.75,218.97 20.47,208.65 21.19,207.17 21.91,208.26 22.62,215.84 23.34,223.13 24.06,229.19 24.78,234.35 25.5,240.24 26.22,244.06 26.94,247 27.66,249.46 28.38,251.61 29.09,253.07 29.81,253.95 30.53,254.67 31.25,255.1 31.97,255.39 32.69,255.57 33.41,255.69 34.12,255.76 34.84,255.81 35.56,255.85 36.28,255.87 37,255.88 37.72,255.89 38.44,255.89 39.16,255.9 39.88,255.9 40.59,255.9 41.31,255.9 42.03,255.9 42.75,255.9 43.47,255.9 44.19,255.9 44.91,255.9 45.62,255.9 46.34,255.9 47.06,255.9 47.78,255.9 48.5,255.9 49.22,255.9 49.94,255.9 50.66,255.9 51.38,255.9 52.09,255.9 52.81,255.9 53.53,255.9 54.25,255.9 54.97,255.9 55.69,255.9 56.41,255.9 57.12,255.9 57.84,255.9 58.56,255.9 59.28,255.9 60,255.9 60.72,255.9 61.44,255.9 62.16,255.9 62.88,255.9 63.59,255.9 64.31,255.9 65.03,255.9 65.75,255.9" fill="none" stroke="#dc524c" stroke-width="0.75" stroke-linejoin="round"/>
<polyline points="14,255.9 14.72,255.9 15.44,255.9 16.16,255.9 16.88,255.9 17.59,255.9 18.31,255.9 19.03,255.9 19.75,255.9 20.47,255.9 21.19,255.9 21.91,255.9 22.62,255.9 23.34,255.9 24.06,255.9 24.78,255.9 25.5,255.9 26.22,255.9 26.94,255.9 27.66,255.9 28.38,255.9 29.09,255.9 29.81,255.9 30.53,255.9 31.25,255.89 31.97,255.88 32.69,255.85 33.41,255.79 34.12,255.66 34.84,255.41 35.56,254.95 36.28,254.29 37,252.68 37.72,251.15 38.44,248.77 39.16,245.55 39.88,241.01 40.59,233.99 41.31,229.86 42.03,218.88 42.75,209.44 43.47,207.57 44.19,209.3 44.91,221.06 45.62,229.75 46.34,236.48 47.06,240.94 47.78,246.13 48.5,249.68 49.22,251.91 49.94,253.67 50.66,254.69 51.38,255.29 52.09,255.62 52.81,255.77 53.53,255.85 54.25,255.88 54.97,255.89 55.69,255.9 56.41,255.9 57.12,255.9 57.84,255.9 58.56,255.9 59.28,255.9 60,255.9 60.72,255.9 61.44,255.9 62.16,255.9 62.88,255.9 63.59,255.9 64.31,255.9 65.03,255.9 65.75,255.9" fill="none" stroke="#44c6dc" stroke-width="1" stroke-linejoin="round"/>
<text x="65.45" y="209.9" font-size="6.4" text-anchor="end" style="fill:#222;stroke:#222">388.5±22.1</text>
<line x1="16.73" y1="256.7" x2="16.73" y2="258" stroke="#555" stroke-width="0.6"/>
<text x="17.03" y="260.7" font-size="2.8" style="fill:#444;stroke:none" text-anchor="middle">10<tspan font-size="2" dy="-1">0</tspan></text>
<line x1="24.95" y1="256.7" x2="24.95" y2="258" stroke="#555" stroke-width="0.6"/>
<text x="25.25" y="260.7" font-size="2.8" style="fill:#444;stroke:none" text-anchor="middle">10<tspan font-size="2" dy="-1">1</tspan></text>
<line x1="37.39" y1="256.7" x2="37.39" y2="258" stroke="#555" stroke-width="0.6"/>
<text x="37.69" y="260.7" font-size="2.8" style="fill:#444;stroke:none" text-anchor="middle">10<tspan font-size="2" dy="-1">2</tspan></text>
<line x1="47.84" y1="256.7" x2="47.84" y2="258" stroke="#555" stroke-width="0.6"/>
<text x="48.14" y="260.7" font-size="2.8" style="fill:#444;stroke:none" text-anchor="middle">10<tspan font-size="2" dy="-1">3</tspan></text>
<line x1="57.79" y1="256.7" x2="57.79" y2="258" stroke="#555" stroke-width="0.6"/>
<text x="58.09" y="260.7" font-size="2.8" style="fill:#444;stroke:none" text-anchor="middle">10<tspan font-size="2" dy="-1">4</tspan></text>
<line x1="12.5" y1="255.9" x2="13.5" y2="255.9" stroke="#777" stroke-width="0.5"/>
<line x1="12.5" y1="245.7" x2="13.5" y2="245.7" stroke="#777" stroke-width="0.5"/>
<line x1="12.5" y1="235.5" x2="13.5" y2="235.5" stroke="#777" stroke-width="0.5"/>
<line x1="12.5" y1="225.3" x2="13.5" y2="225.3" stroke="#777" stroke-width="0.5"/>
<line x1="12.5" y1="215.1" x2="13.5" y2="215.1" stroke="#777" stroke-width="0.5"/>
<line x1="12.5" y1="204.9" x2="13.5" y2="204.9" stroke="#777" stroke-width="0.5"/>
<rect x="70.5" y="203.1" width="53" height="53.6" fill="none" stroke="#8a8a8a" stroke-width="0.8"/>
<polyline points="71,254.75 71.72,253.6 72.44,251.41 73.17,248.17 73.89,243.8 74.61,236.77 75.33,227.91 76.06,216.39 76.78,207.73 77.5,206.16 78.22,206.28 78.94,215.88 79.67,222.48 80.39,228.72 81.11,235.69 81.83,239.97 82.56,244.42 83.28,247.14 84,249.69 84.72,251.72 85.44,253.04 86.17,254.1 86.89,254.72 87.61,255.13 88.33,255.41 89.06,255.58 89.78,255.7 90.5,255.77 91.22,255.82 91.94,255.85 92.67,255.87 93.39,255.88 94.11,255.89 94.83,255.89 95.56,255.9 96.28,255.9 97,255.9 97.72,255.9 98.44,255.9 99.17,255.9 99.89,255.9 100.61,255.9 101.33,255.9 102.06,255.9 102.78,255.9 103.5,255.9 104.22,255.9 104.94,255.9 105.67,255.9 106.39,255.9 107.11,255.9 107.83,255.9 108.56,255.9 109.28,255.9 110,255.9 110.72,255.9 111.44,255.9 112.17,255.9 112.89,255.9 113.61,255.9 114.33,255.9 115.06,255.9 115.78,255.9 116.5,255.9 117.22,255.9 117.94,255.9 118.67,255.9 119.39,255.9 120.11,255.9 120.83,255.9 121.56,255.9 122.28,255.9 123,255.9" fill="none" stroke="#dc524c" stroke-width="0.75" stroke-linejoin="round"/>
<polyline points="71,255.26 71.72,254.97 72.44,254.63 73.17,254.2 73.89,253.85 74.61,253.54 75.33,253.39 76.06,253.12 76.78,253.1 77.5,253.4 78.22,253.46 78.94,253.87 79.67,253.79 80.39,253.97 81.11,253.96 81.83,254.05 82.56,254.16 83.28,253.96 84,253.57 84.72,253.45 85.44,252.68 86.17,252.19 86.89,251.43 87.61,250.53 88.33,248.54 89.06,248.08 89.78,246.45 90.5,244.55 91.22,241.6 91.94,241.71 92.67,238.66 93.39,236.22 94.11,232.76 94.83,230.77 95.56,228.39 96.28,229.23 97,226.67 97.72,224.98 98.44,219.19 99.17,214.81 99.89,216.09 100.61,212.02 101.33,210.43 102.06,214.73 102.78,221.72 103.5,230.91 104.22,239.95 104.94,246 105.67,249.2 106.39,251.97 107.11,253.65 107.83,254.75 108.56,255.35 109.28,255.65 110,255.8 110.72,255.86 111.44,255.89 112.17,255.9 112.89,255.9 113.61,255.9 114.33,255.9 115.06,255.9 115.78,255.9 116.5,255.9 117.22,255.9 117.94,255.9 118.67,255.9 119.39,255.9 120.11,255.9 120.83,255.9 121.56,255.9 122.28,255.9 123,255.9" fill="none" stroke="#44c6dc" stroke-width="1" stroke-linejoin="round"/>
<text x="122.7" y="209.9" font-size="6.4" text-anchor="end" style="fill:#222;stroke:#222">372.0±31.3</text>
<line x1="73.75" y1="256.7" x2="73.75" y2="258" stroke="#555" stroke-width="0.6"/>
<text x="74.05" y="260.7" font-size="2.8" style="fill:#444;stroke:none" text-anchor="middle">10<tspan font-size="2" dy="-1">0</tspan></text>
<line x1="82" y1="256.7" x2="82" y2="258" stroke="#555" stroke-width="0.6"/>
<text x="82.3" y="260.7" font-size="2.8" style="fill:#444;stroke:none" text-anchor="middle">10<tspan font-size="2" dy="-1">1</tspan></text>
<line x1="94.5" y1="256.7" x2="94.5" y2="258" stroke="#555" stroke-width="0.6"/>
<text x="94.8" y="260.7" font-size="2.8" style="fill:#444;stroke:none" text-anchor="middle">10<tspan font-size="2" dy="-1">2</tspan></text>
<line x1="105" y1="256.7" x2="105" y2="258" stroke="#555" stroke-width="0.6"/>
<text x="105.3" y="260.7" font-size="2.8" style="fill:#444;stroke:none" text-anchor="middle">10<tspan font-size="2" dy="-1">3</tspan></text>
<line x1="115" y1="256.7" x2="115" y2="258" stroke="#555" stroke-width="0.6"/>
<text x="115.3" y="260.7" font-size="2.8" style="fill:#444;stroke:none" text-anchor="middle">10<tspan font-size="2" dy="-1">4</tspan></text>
<line x1="69.5" y1="255.9" x2="70.5" y2="255.9" stroke="#777" stroke-width="0.5"/>
<line x1="69.5" y1="245.7" x2="70.5" y2="245.7" stroke="#777" stroke-width="0.5"/>
<line x1="69.5" y1="235.5" x2="70.5" y2="235.5" stroke="#777" stroke-width="0.5"/>
<line x1="69.5" y1="225.3" x2="70.5" y2="225.3" stroke="#777" stroke-width="0.5"/>
<line x1="69.5" y1="215.1" x2="70.5" y2="215.1" stroke="#777" stroke-width="0.5"/>
<line x1="69.5" y1="204.9" x2="70.5" y2="204.9" stroke="#777" stroke-width="0.5"/>
<rect x="127" y="203.1" width="53" height="53.6" fill="none" stroke="#8a8a8a" stroke-width="0.8"/>
<polyline points="127.5,254.63 128.22,253.24 128.94,251.07 129.67,247.72 130.39,242.63 131.11,235.5 131.83,227.62 132.56,214.85 133.28,206.64 134,203.88 134.72,207.73 135.44,216.01 136.17,223.56 136.89,230.96 137.61,235.63 138.33,241.1 139.06,244.87 139.78,247.84 140.5,250.28 141.22,252.02 141.94,253.37 142.67,254.25 143.39,254.78 144.11,255.18 144.83,255.43 145.56,255.6 146.28,255.71 147,255.78 147.72,255.82 148.44,255.85 149.17,255.87 149.89,255.88 150.61,255.89 151.33,255.89 152.06,255.9 152.78,255.9 153.5,255.9 154.22,255.9 154.94,255.9 155.67,255.9 156.39,255.9 157.11,255.9 157.83,255.9 158.56,255.9 159.28,255.9 160,255.9 160.72,255.9 161.44,255.9 162.17,255.9 162.89,255.9 163.61,255.9 164.33,255.9 165.06,255.9 165.78,255.9 166.5,255.9 167.22,255.9 167.94,255.9 168.67,255.9 169.39,255.9 170.11,255.9 170.83,255.9 171.56,255.9 172.28,255.9 173,255.9 173.72,255.9 174.44,255.9 175.17,255.9 175.89,255.9 176.61,255.9 177.33,255.9 178.06,255.9 178.78,255.9 179.5,255.9" fill="none" stroke="#dc524c" stroke-width="0.75" stroke-linejoin="round"/>
<polyline points="127.5,254.85 128.22,254.68 128.94,254.5 129.67,254.41 130.39,254.25 131.11,254 131.83,253.96 132.56,253.49 133.28,253.47 134,253.58 134.72,253.48 135.44,253.41 136.17,253.41 136.89,253.58 137.61,253.35 138.33,253.42 139.06,253.76 139.78,253.86 140.5,254.07 141.22,254.06 141.94,253.87 142.67,253.65 143.39,252.94 144.11,252.64 144.83,251.85 145.56,249.74 146.28,248.54 147,247.17 147.72,244.12 148.44,242.71 149.17,238.36 149.89,233.37 150.61,230.06 151.33,226.86 152.06,225.03 152.78,219.8 153.5,216.44 154.22,207.34 154.94,206.94 155.67,205.15 156.39,211.69 157.11,216.28 157.83,216.11 158.56,218.91 159.28,223.27 160,226.9 160.72,230.2 161.44,233.84 162.17,238.7 162.89,240.65 163.61,243.68 164.33,246.59 165.06,248.49 165.78,249.82 166.5,251.24 167.22,252.1 167.94,252.95 168.67,253.94 169.39,254.48 170.11,254.9 170.83,255.21 171.56,255.43 172.28,255.59 173,255.7 173.72,255.77 174.44,255.82 175.17,255.85 175.89,255.87 176.61,255.88 177.33,255.89 178.06,255.89 178.78,255.9 179.5,255.9" fill="none" stroke="#44c6dc" stroke-width="1" stroke-linejoin="round"/>
<text x="179.2" y="209.9" font-size="6.4" text-anchor="end" style="fill:#222;stroke:#222">375.3±22.4</text>
<line x1="130.25" y1="256.7" x2="130.25" y2="258" stroke="#555" stroke-width="0.6"/>
<text x="130.55" y="260.7" font-size="2.8" style="fill:#444;stroke:none" text-anchor="middle">10<tspan font-size="2" dy="-1">0</tspan></text>
<line x1="138.5" y1="256.7" x2="138.5" y2="258" stroke="#555" stroke-width="0.6"/>
<text x="138.8" y="260.7" font-size="2.8" style="fill:#444;stroke:none" text-anchor="middle">10<tspan font-size="2" dy="-1">1</tspan></text>
<line x1="151" y1="256.7" x2="151" y2="258" stroke="#555" stroke-width="0.6"/>
<text x="151.3" y="260.7" font-size="2.8" style="fill:#444;stroke:none" text-anchor="middle">10<tspan font-size="2" dy="-1">2</tspan></text>
<line x1="161.5" y1="256.7" x2="161.5" y2="258" stroke="#555" stroke-width="0.6"/>
<text x="161.8" y="260.7" font-size="2.8" style="fill:#444;stroke:none" text-anchor="middle">10<tspan font-size="2" dy="-1">3</tspan></text>
<line x1="171.5" y1="256.7" x2="171.5" y2="258" stroke="#555" stroke-width="0.6"/>
<text x="171.8" y="260.7" font-size="2.8" style="fill:#444;stroke:none" text-anchor="middle">10<tspan font-size="2" dy="-1">4</tspan></text>
<line x1="126" y1="255.9" x2="127" y2="255.9" stroke="#777" stroke-width="0.5"/>
<line x1="126" y1="245.7" x2="127" y2="245.7" stroke="#777" stroke-width="0.5"/>
<line x1="126" y1="235.5" x2="127" y2="235.5" stroke="#777" stroke-width="0.5"/>
<line x1="126" y1="225.3" x2="127" y2="225.3" stroke="#777" stroke-width="0.5"/>
<line x1="126" y1="215.1" x2="127" y2="215.1" stroke="#777" stroke-width="0.5"/>
<line x1="126" y1="204.9" x2="127" y2="204.9" stroke="#777" stroke-width="0.5"/>
<rect x="183.75" y="203.1" width="53" height="53.6" fill="none" stroke="#8a8a8a" stroke-width="0.8"/>
<polyline points="184.25,254.29 184.97,252.71 185.69,250.13 186.42,246.63 187.14,241.37 187.86,233.94 188.58,224.49 189.31,214.4 190.03,205.86 190.75,204.28 191.47,209.28 192.19,217.85 192.92,224.93 193.64,231.26 194.36,237.86 195.08,241.54 195.81,245.08 196.53,248.23 197.25,250.59 197.97,252.39 198.69,253.63 199.42,254.37 200.14,254.91 200.86,255.26 201.58,255.49 202.31,255.64 203.03,255.73 203.75,255.79 204.47,255.83 205.19,255.86 205.92,255.88 206.64,255.89 207.36,255.89 208.08,255.9 208.81,255.9 209.53,255.9 210.25,255.9 210.97,255.9 211.69,255.9 212.42,255.9 213.14,255.9 213.86,255.9 214.58,255.9 215.31,255.9 216.03,255.9 216.75,255.9 217.47,255.9 218.19,255.9 218.92,255.9 219.64,255.9 220.36,255.9 221.08,255.9 221.81,255.9 222.53,255.9 223.25,255.9 223.97,255.9 224.69,255.9 225.42,255.9 226.14,255.9 226.86,255.9 227.58,255.9 228.31,255.9 229.03,255.9 229.75,255.9 230.47,255.9 231.19,255.9 231.92,255.9 232.64,255.9 233.36,255.9 234.08,255.9 234.81,255.9 235.53,255.9 236.25,255.9" fill="none" stroke="#dc524c" stroke-width="0.75" stroke-linejoin="round"/>
<polyline points="184.25,255.9 184.97,255.9 185.69,255.9 186.42,255.9 187.14,255.9 187.86,255.9 188.58,255.9 189.31,255.9 190.03,255.9 190.75,255.89 191.47,255.88 192.19,255.86 192.92,255.82 193.64,255.74 194.36,255.59 195.08,255.34 195.81,254.92 196.53,254.16 197.25,253.3 197.97,251.5 198.69,249.13 199.42,247.11 200.14,243.75 200.86,238.12 201.58,233.87 202.31,230.88 203.03,225.28 203.75,218.86 204.47,207.21 205.19,204.81 205.92,211.37 206.64,209.46 207.36,213.21 208.08,219.61 208.81,224.49 209.53,225.54 210.25,229.31 210.97,231.13 211.69,227.97 212.42,231.33 213.14,234.23 213.86,235.16 214.58,239.09 215.31,240.02 216.03,242.32 216.75,245.59 217.47,247.25 218.19,248.8 218.92,250.3 219.64,251.26 220.36,252.58 221.08,253.37 221.81,254.17 222.53,254.6 223.25,255.01 223.97,255.31 224.69,255.52 225.42,255.66 226.14,255.75 226.86,255.81 227.58,255.85 228.31,255.87 229.03,255.88 229.75,255.89 230.47,255.9 231.19,255.9 231.92,255.9 232.64,255.9 233.36,255.9 234.08,255.9 234.81,255.9 235.53,255.9 236.25,255.9" fill="none" stroke="#44c6dc" stroke-width="1" stroke-linejoin="round"/>
<text x="235.95" y="209.9" font-size="6.4" text-anchor="end" style="fill:#222;stroke:#222">99.3±8.1</text>
<line x1="187" y1="256.7" x2="187" y2="258" stroke="#555" stroke-width="0.6"/>
<text x="187.3" y="260.7" font-size="2.8" style="fill:#444;stroke:none" text-anchor="middle">10<tspan font-size="2" dy="-1">0</tspan></text>
<line x1="195.25" y1="256.7" x2="195.25" y2="258" stroke="#555" stroke-width="0.6"/>
<text x="195.55" y="260.7" font-size="2.8" style="fill:#444;stroke:none" text-anchor="middle">10<tspan font-size="2" dy="-1">1</tspan></text>
<line x1="207.75" y1="256.7" x2="207.75" y2="258" stroke="#555" stroke-width="0.6"/>
<text x="208.05" y="260.7" font-size="2.8" style="fill:#444;stroke:none" text-anchor="middle">10<tspan font-size="2" dy="-1">2</tspan></text>
<line x1="218.25" y1="256.7" x2="218.25" y2="258" stroke="#555" stroke-width="0.6"/>
<text x="218.55" y="260.7" font-size="2.8" style="fill:#444;stroke:none" text-anchor="middle">10<tspan font-size="2" dy="-1">3</tspan></text>
<line x1="228.25" y1="256.7" x2="228.25" y2="258" stroke="#555" stroke-width="0.6"/>
<text x="228.55" y="260.7" font-size="2.8" style="fill:#444;stroke:none" text-anchor="middle">10<tspan font-size="2" dy="-1">4</tspan></text>
<line x1="182.75" y1="255.9" x2="183.75" y2="255.9" stroke="#777" stroke-width="0.5"/>
<line x1="182.75" y1="245.7" x2="183.75" y2="245.7" stroke="#777" stroke-width="0.5"/>
<line x1="182.75" y1="235.5" x2="183.75" y2="235.5" stroke="#777" stroke-width="0.5"/>
<line x1="182.75" y1="225.3" x2="183.75" y2="225.3" stroke="#777" stroke-width="0.5"/>
<line x1="182.75" y1="215.1" x2="183.75" y2="215.1" stroke="#777" stroke-width="0.5"/>
<line x1="182.75" y1="204.9" x2="183.75" y2="204.9" stroke="#777" stroke-width="0.5"/>
<rect x="240.3" y="203.1" width="51.9" height="53.6" fill="none" stroke="#8a8a8a" stroke-width="0.8"/>
<polyline points="240.8,254.29 241.51,252.91 242.21,250.48 242.92,246.75 243.63,241.12 244.33,234.5 245.04,224 245.75,214.82 246.46,207 247.16,205.41 247.87,211.02 248.58,216.19 249.28,224.29 249.99,231.18 250.7,235.26 251.4,240.79 252.11,244.28 252.82,247.26 253.53,249.87 254.23,251.83 254.94,253.11 255.65,254.05 256.35,254.69 257.06,255.11 257.77,255.39 258.47,255.57 259.18,255.68 259.89,255.76 260.59,255.81 261.3,255.85 262.01,255.87 262.72,255.88 263.42,255.89 264.13,255.89 264.84,255.9 265.54,255.9 266.25,255.9 266.96,255.9 267.66,255.9 268.37,255.9 269.08,255.9 269.78,255.9 270.49,255.9 271.2,255.9 271.91,255.9 272.61,255.9 273.32,255.9 274.03,255.9 274.73,255.9 275.44,255.9 276.15,255.9 276.85,255.9 277.56,255.9 278.27,255.9 278.98,255.9 279.68,255.9 280.39,255.9 281.1,255.9 281.8,255.9 282.51,255.9 283.22,255.9 283.92,255.9 284.63,255.9 285.34,255.9 286.04,255.9 286.75,255.9 287.46,255.9 288.17,255.9 288.87,255.9 289.58,255.9 290.29,255.9 290.99,255.9 291.7,255.9" fill="none" stroke="#dc524c" stroke-width="0.75" stroke-linejoin="round"/>
<polyline points="240.8,255.9 241.51,255.9 242.21,255.9 242.92,255.9 243.63,255.9 244.33,255.89 245.04,255.88 245.75,255.84 246.46,255.76 247.16,255.58 247.87,255.22 248.58,254.55 249.28,253.26 249.99,251.82 250.7,248.6 251.4,245.16 252.11,239.78 252.82,230.57 253.53,222.83 254.23,213.74 254.94,206.47 255.65,204.28 256.35,210.93 257.06,213.4 257.77,218.02 258.47,221.36 259.18,223.36 259.89,227.53 260.59,229.9 261.3,232.87 262.01,233.78 262.72,237.26 263.42,239.2 264.13,241.38 264.84,244.99 265.54,246.28 266.25,247.46 266.96,249.21 267.66,251.24 268.37,252.31 269.08,253.03 269.78,253.94 270.49,254.39 271.2,254.85 271.91,255.2 272.61,255.44 273.32,255.61 274.03,255.72 274.73,255.8 275.44,255.84 276.15,255.87 276.85,255.88 277.56,255.89 278.27,255.89 278.98,255.9 279.68,255.9 280.39,255.9 281.1,255.9 281.8,255.9 282.51,255.9 283.22,255.9 283.92,255.9 284.63,255.9 285.34,255.9 286.04,255.9 286.75,255.9 287.46,255.9 288.17,255.9 288.87,255.9 289.58,255.9 290.29,255.9 290.99,255.9 291.7,255.9" fill="none" stroke="#44c6dc" stroke-width="1" stroke-linejoin="round"/>
<text x="291.4" y="209.9" font-size="6.4" text-anchor="end" style="fill:#222;stroke:#222">46.2±6.9</text>
<line x1="243.48" y1="256.7" x2="243.48" y2="258" stroke="#555" stroke-width="0.6"/>
<text x="243.78" y="260.7" font-size="2.8" style="fill:#444;stroke:none" text-anchor="middle">10<tspan font-size="2" dy="-1">0</tspan></text>
<line x1="251.56" y1="256.7" x2="251.56" y2="258" stroke="#555" stroke-width="0.6"/>
<text x="251.86" y="260.7" font-size="2.8" style="fill:#444;stroke:none" text-anchor="middle">10<tspan font-size="2" dy="-1">1</tspan></text>
<line x1="263.8" y1="256.7" x2="263.8" y2="258" stroke="#555" stroke-width="0.6"/>
<text x="264.1" y="260.7" font-size="2.8" style="fill:#444;stroke:none" text-anchor="middle">10<tspan font-size="2" dy="-1">2</tspan></text>
<line x1="274.08" y1="256.7" x2="274.08" y2="258" stroke="#555" stroke-width="0.6"/>
<text x="274.38" y="260.7" font-size="2.8" style="fill:#444;stroke:none" text-anchor="middle">10<tspan font-size="2" dy="-1">3</tspan></text>
<line x1="283.88" y1="256.7" x2="283.88" y2="258" stroke="#555" stroke-width="0.6"/>
<text x="284.18" y="260.7" font-size="2.8" style="fill:#444;stroke:none" text-anchor="middle">10<tspan font-size="2" dy="-1">4</tspan></text>
<line x1="239.3" y1="255.9" x2="240.3" y2="255.9" stroke="#777" stroke-width="0.5"/>
<line x1="239.3" y1="245.7" x2="240.3" y2="245.7" stroke="#777" stroke-width="0.5"/>
<line x1="239.3" y1="235.5" x2="240.3" y2="235.5" stroke="#777" stroke-width="0.5"/>
<line x1="239.3" y1="225.3" x2="240.3" y2="225.3" stroke="#777" stroke-width="0.5"/>
<line x1="239.3" y1="215.1" x2="240.3" y2="215.1" stroke="#777" stroke-width="0.5"/>
<line x1="239.3" y1="204.9" x2="240.3" y2="204.9" stroke="#777" stroke-width="0.5"/>
<rect x="298" y="203.1" width="52.5" height="53.6" fill="none" stroke="#8a8a8a" stroke-width="0.8"/>
<polyline points="298.5,255.48 299.22,254.95 299.93,253.99 300.65,252.31 301.36,249.26 302.08,244.88 302.79,238.61 303.51,231.69 304.22,220.34 304.94,210.56 305.65,207.04 306.37,205.08 307.08,210.36 307.8,220.25 308.51,225.68 309.23,233.15 309.94,238.15 310.66,241.9 311.38,245.7 312.09,249 312.81,251 313.52,252.56 314.24,253.72 314.95,254.45 315.67,254.96 316.38,255.29 317.1,255.5 317.81,255.64 318.53,255.74 319.24,255.8 319.96,255.84 320.67,255.86 321.39,255.88 322.1,255.89 322.82,255.89 323.53,255.9 324.25,255.9 324.97,255.9 325.68,255.9 326.4,255.9 327.11,255.9 327.83,255.9 328.54,255.9 329.26,255.9 329.97,255.9 330.69,255.9 331.4,255.9 332.12,255.9 332.83,255.9 333.55,255.9 334.26,255.9 334.98,255.9 335.69,255.9 336.41,255.9 337.12,255.9 337.84,255.9 338.56,255.9 339.27,255.9 339.99,255.9 340.7,255.9 341.42,255.9 342.13,255.9 342.85,255.9 343.56,255.9 344.28,255.9 344.99,255.9 345.71,255.9 346.42,255.9 347.14,255.9 347.85,255.9 348.57,255.9 349.28,255.9 350,255.9" fill="none" stroke="#dc524c" stroke-width="0.75" stroke-linejoin="round"/>
<polyline points="298.5,255.9 299.22,255.9 299.93,255.9 300.65,255.9 301.36,255.9 302.08,255.9 302.79,255.89 303.51,255.89 304.22,255.88 304.94,255.87 305.65,255.86 306.37,255.83 307.08,255.79 307.8,255.73 308.51,255.65 309.23,255.53 309.94,255.36 310.66,255.12 311.38,254.79 312.09,254.44 312.81,253.84 313.52,252.92 314.24,252.42 314.95,250.88 315.67,249.58 316.38,248.52 317.1,246.16 317.81,243.34 318.53,241.07 319.24,239.75 319.96,233.7 320.67,231.28 321.39,227.25 322.1,228.6 322.82,224.85 323.53,223.1 324.25,214.16 324.97,213.57 325.68,211.31 326.4,207.65 327.11,205.47 327.83,210.57 328.54,219.18 329.26,223.62 329.97,222.47 330.69,227.61 331.4,230.19 332.12,235.81 332.83,238.74 333.55,239.62 334.26,243.01 334.98,246.07 335.69,246.69 336.41,249.02 337.12,250.42 337.84,252.25 338.56,252.76 339.27,253.9 339.99,254.24 340.7,254.79 341.42,255.13 342.13,255.37 342.85,255.55 343.56,255.67 344.28,255.75 344.99,255.8 345.71,255.84 346.42,255.86 347.14,255.88 347.85,255.89 348.57,255.89 349.28,255.9 350,255.9" fill="none" stroke="#44c6dc" stroke-width="1" stroke-linejoin="round"/>
<text x="349.7" y="209.9" font-size="6.4" text-anchor="end" style="fill:#222;stroke:#222">378.5±12.9</text>
<line x1="301.22" y1="256.7" x2="301.22" y2="258" stroke="#555" stroke-width="0.6"/>
<text x="301.52" y="260.7" font-size="2.8" style="fill:#444;stroke:none" text-anchor="middle">10<tspan font-size="2" dy="-1">0</tspan></text>
<line x1="309.39" y1="256.7" x2="309.39" y2="258" stroke="#555" stroke-width="0.6"/>
<text x="309.69" y="260.7" font-size="2.8" style="fill:#444;stroke:none" text-anchor="middle">10<tspan font-size="2" dy="-1">1</tspan></text>
<line x1="321.77" y1="256.7" x2="321.77" y2="258" stroke="#555" stroke-width="0.6"/>
<text x="322.07" y="260.7" font-size="2.8" style="fill:#444;stroke:none" text-anchor="middle">10<tspan font-size="2" dy="-1">2</tspan></text>
<line x1="332.17" y1="256.7" x2="332.17" y2="258" stroke="#555" stroke-width="0.6"/>
<text x="332.47" y="260.7" font-size="2.8" style="fill:#444;stroke:none" text-anchor="middle">10<tspan font-size="2" dy="-1">3</tspan></text>
<line x1="342.08" y1="256.7" x2="342.08" y2="258" stroke="#555" stroke-width="0.6"/>
<text x="342.38" y="260.7" font-size="2.8" style="fill:#444;stroke:none" text-anchor="middle">10<tspan font-size="2" dy="-1">4</tspan></text>
<line x1="297" y1="255.9" x2="298" y2="255.9" stroke="#777" stroke-width="0.5"/>
<line x1="297" y1="245.7" x2="298" y2="245.7" stroke="#777" stroke-width="0.5"/>
<line x1="297" y1="235.5" x2="298" y2="235.5" stroke="#777" stroke-width="0.5"/>
<line x1="297" y1="225.3" x2="298" y2="225.3" stroke="#777" stroke-width="0.5"/>
<line x1="297" y1="215.1" x2="298" y2="215.1" stroke="#777" stroke-width="0.5"/>
<line x1="297" y1="204.9" x2="298" y2="204.9" stroke="#777" stroke-width="0.5"/>
<rect x="354.5" y="203.1" width="53" height="53.6" fill="none" stroke="#8a8a8a" stroke-width="0.8"/>
<polyline points="355,255.37 355.72,254.72 356.44,253.52 357.17,251.49 357.89,248.14 358.61,242.95 359.33,237 360.06,228.5 360.78,217.14 361.5,209.38 362.22,206.89 362.94,209.57 363.67,216.32 364.39,223.29 365.11,229.86 365.83,235.6 366.56,239.77 367.28,244.29 368,247.34 368.72,250.05 369.44,251.85 370.17,253.27 370.89,254.14 371.61,254.73 372.33,255.14 373.06,255.41 373.78,255.59 374.5,255.7 375.22,255.77 375.94,255.82 376.67,255.85 377.39,255.87 378.11,255.88 378.83,255.89 379.56,255.89 380.28,255.9 381,255.9 381.72,255.9 382.44,255.9 383.17,255.9 383.89,255.9 384.61,255.9 385.33,255.9 386.06,255.9 386.78,255.9 387.5,255.9 388.22,255.9 388.94,255.9 389.67,255.9 390.39,255.9 391.11,255.9 391.83,255.9 392.56,255.9 393.28,255.9 394,255.9 394.72,255.9 395.44,255.9 396.17,255.9 396.89,255.9 397.61,255.9 398.33,255.9 399.06,255.9 399.78,255.9 400.5,255.9 401.22,255.9 401.94,255.9 402.67,255.9 403.39,255.9 404.11,255.9 404.83,255.9 405.56,255.9 406.28,255.9 407,255.9" fill="none" stroke="#dc524c" stroke-width="0.75" stroke-linejoin="round"/>
<polyline points="355,255.9 355.72,255.9 356.44,255.9 357.17,255.9 357.89,255.9 358.61,255.9 359.33,255.9 360.06,255.9 360.78,255.9 361.5,255.9 362.22,255.9 362.94,255.9 363.67,255.89 364.39,255.88 365.11,255.87 365.83,255.85 366.56,255.8 367.28,255.73 368,255.62 368.72,255.43 369.44,255.15 370.17,254.72 370.89,254.27 371.61,253.13 372.33,252.03 373.06,250.82 373.78,248.58 374.5,245.35 375.22,244.12 375.94,238.99 376.67,236.51 377.39,232.46 378.11,226.89 378.83,225.14 379.56,220.05 380.28,213.44 381,205.59 381.72,208.35 382.44,205.94 383.17,212.24 383.89,218.51 384.61,224.8 385.33,229.31 386.06,234.55 386.78,237.97 387.5,241.66 388.22,243.34 388.94,247.18 389.67,249.6 390.39,251.47 391.11,252.38 391.83,253.52 392.56,254.44 393.28,254.97 394,255.33 394.72,255.56 395.44,255.7 396.17,255.79 396.89,255.84 397.61,255.87 398.33,255.88 399.06,255.89 399.78,255.9 400.5,255.9 401.22,255.9 401.94,255.9 402.67,255.9 403.39,255.9 404.11,255.9 404.83,255.9 405.56,255.9 406.28,255.9 407,255.9" fill="none" stroke="#44c6dc" stroke-width="1" stroke-linejoin="round"/>
<text x="406.7" y="209.9" font-size="6.4" text-anchor="end" style="fill:#222;stroke:#222">381.4±18.4</text>
<line x1="357.75" y1="256.7" x2="357.75" y2="258" stroke="#555" stroke-width="0.6"/>
<text x="358.05" y="260.7" font-size="2.8" style="fill:#444;stroke:none" text-anchor="middle">10<tspan font-size="2" dy="-1">0</tspan></text>
<line x1="366" y1="256.7" x2="366" y2="258" stroke="#555" stroke-width="0.6"/>
<text x="366.3" y="260.7" font-size="2.8" style="fill:#444;stroke:none" text-anchor="middle">10<tspan font-size="2" dy="-1">1</tspan></text>
<line x1="378.5" y1="256.7" x2="378.5" y2="258" stroke="#555" stroke-width="0.6"/>
<text x="378.8" y="260.7" font-size="2.8" style="fill:#444;stroke:none" text-anchor="middle">10<tspan font-size="2" dy="-1">2</tspan></text>
<line x1="389" y1="256.7" x2="389" y2="258" stroke="#555" stroke-width="0.6"/>
<text x="389.3" y="260.7" font-size="2.8" style="fill:#444;stroke:none" text-anchor="middle">10<tspan font-size="2" dy="-1">3</tspan></text>
<line x1="399" y1="256.7" x2="399" y2="258" stroke="#555" stroke-width="0.6"/>
<text x="399.3" y="260.7" font-size="2.8" style="fill:#444;stroke:none" text-anchor="middle">10<tspan font-size="2" dy="-1">4</tspan></text>
<line x1="353.5" y1="255.9" x2="354.5" y2="255.9" stroke="#777" stroke-width="0.5"/>
<line x1="353.5" y1="245.7" x2="354.5" y2="245.7" stroke="#777" stroke-width="0.5"/>
<line x1="353.5" y1="235.5" x2="354.5" y2="235.5" stroke="#777" stroke-width="0.5"/>
<line x1="353.5" y1="225.3" x2="354.5" y2="225.3" stroke="#777" stroke-width="0.5"/>
<line x1="353.5" y1="215.1" x2="354.5" y2="215.1" stroke="#777" stroke-width="0.5"/>
<line x1="353.5" y1="204.9" x2="354.5" y2="204.9" stroke="#777" stroke-width="0.5"/>
<rect x="410.5" y="203.1" width="52" height="53.6" fill="none" stroke="#8a8a8a" stroke-width="0.8"/>
<polyline points="411,255.52 411.71,255.06 412.42,254.13 413.12,252.6 413.83,250.07 414.54,246.2 415.25,240.54 415.96,233.51 416.67,223.36 417.38,213.95 418.08,204.49 418.79,203.96 419.5,210.15 420.21,218.19 420.92,223.65 421.62,231.68 422.33,236.92 423.04,241.78 423.75,245.03 424.46,247.98 425.17,250.32 425.88,252.17 426.58,253.34 427.29,254.27 428,254.79 428.71,255.18 429.42,255.43 430.12,255.59 430.83,255.7 431.54,255.77 432.25,255.82 432.96,255.85 433.67,255.87 434.38,255.88 435.08,255.89 435.79,255.89 436.5,255.9 437.21,255.9 437.92,255.9 438.62,255.9 439.33,255.9 440.04,255.9 440.75,255.9 441.46,255.9 442.17,255.9 442.88,255.9 443.58,255.9 444.29,255.9 445,255.9 445.71,255.9 446.42,255.9 447.12,255.9 447.83,255.9 448.54,255.9 449.25,255.9 449.96,255.9 450.67,255.9 451.38,255.9 452.08,255.9 452.79,255.9 453.5,255.9 454.21,255.9 454.92,255.9 455.62,255.9 456.33,255.9 457.04,255.9 457.75,255.9 458.46,255.9 459.17,255.9 459.88,255.9 460.58,255.9 461.29,255.9 462,255.9" fill="none" stroke="#dc524c" stroke-width="0.75" stroke-linejoin="round"/>
<polyline points="411,255.9 411.71,255.9 412.42,255.9 413.12,255.9 413.83,255.89 414.54,255.89 415.25,255.88 415.96,255.86 416.67,255.82 417.38,255.77 418.08,255.68 418.79,255.55 419.5,255.34 420.21,255.04 420.92,254.6 421.62,254.06 422.33,253.33 423.04,252.07 423.75,250.98 424.46,249.32 425.17,246.8 425.88,244.4 426.58,240.57 427.29,237.37 428,232.93 428.71,229.55 429.42,225.47 430.12,220.48 430.83,218.95 431.54,214.25 432.25,204.19 432.96,210.11 433.67,207.91 434.38,213.55 435.08,222.29 435.79,221.14 436.5,224.48 437.21,229.39 437.92,232.51 438.62,235.8 439.33,241.14 440.04,243.03 440.75,245.72 441.46,247.52 442.17,249.56 442.88,251.16 443.58,252.59 444.29,253.42 445,254.23 445.71,254.8 446.42,255.16 447.12,255.42 447.83,255.59 448.54,255.71 449.25,255.78 449.96,255.83 450.67,255.86 451.38,255.88 452.08,255.89 452.79,255.89 453.5,255.9 454.21,255.9 454.92,255.9 455.62,255.9 456.33,255.9 457.04,255.9 457.75,255.9 458.46,255.9 459.17,255.9 459.88,255.9 460.58,255.9 461.29,255.9 462,255.9" fill="none" stroke="#44c6dc" stroke-width="1" stroke-linejoin="round"/>
<text x="461.7" y="209.9" font-size="6.4" text-anchor="end" style="fill:#222;stroke:#222">75.8±10.1</text>
<line x1="413.69" y1="256.7" x2="413.69" y2="258" stroke="#555" stroke-width="0.6"/>
<text x="413.99" y="260.7" font-size="2.8" style="fill:#444;stroke:none" text-anchor="middle">10<tspan font-size="2" dy="-1">0</tspan></text>
<line x1="421.78" y1="256.7" x2="421.78" y2="258" stroke="#555" stroke-width="0.6"/>
<text x="422.08" y="260.7" font-size="2.8" style="fill:#444;stroke:none" text-anchor="middle">10<tspan font-size="2" dy="-1">1</tspan></text>
<line x1="434.05" y1="256.7" x2="434.05" y2="258" stroke="#555" stroke-width="0.6"/>
<text x="434.35" y="260.7" font-size="2.8" style="fill:#444;stroke:none" text-anchor="middle">10<tspan font-size="2" dy="-1">2</tspan></text>
<line x1="444.35" y1="256.7" x2="444.35" y2="258" stroke="#555" stroke-width="0.6"/>
<text x="444.65" y="260.7" font-size="2.8" style="fill:#444;stroke:none" text-anchor="middle">10<tspan font-size="2" dy="-1">3</tspan></text>
<line x1="454.16" y1="256.7" x2="454.16" y2="258" stroke="#555" stroke-width="0.6"/>
<text x="454.46" y="260.7" font-size="2.8" style="fill:#444;stroke:none" text-anchor="middle">10<tspan font-size="2" dy="-1">4</tspan></text>
<line x1="409.5" y1="255.9" x2="410.5" y2="255.9" stroke="#777" stroke-width="0.5"/>
<line x1="409.5" y1="245.7" x2="410.5" y2="245.7" stroke="#777" stroke-width="0.5"/>
<line x1="409.5" y1="235.5" x2="410.5" y2="235.5" stroke="#777" stroke-width="0.5"/>
<line x1="409.5" y1="225.3" x2="410.5" y2="225.3" stroke="#777" stroke-width="0.5"/>
<line x1="409.5" y1="215.1" x2="410.5" y2="215.1" stroke="#777" stroke-width="0.5"/>
<line x1="409.5" y1="204.9" x2="410.5" y2="204.9" stroke="#777" stroke-width="0.5"/>
<rect x="464.5" y="203.1" width="53" height="53.6" fill="none" stroke="#8a8a8a" stroke-width="0.8"/>
<polyline points="465,255.57 465.72,255.13 466.44,254.24 467.17,252.78 467.89,250.36 468.61,246.52 469.33,240.81 470.06,233.64 470.78,222.18 471.5,212.62 472.22,205.61 472.94,205.54 473.67,210.26 474.39,218.29 475.11,226.94 475.83,231.63 476.56,237.17 477.28,241.97 478,245.6 478.72,248.47 479.44,250.99 480.17,252.4 480.89,253.67 481.61,254.41 482.33,254.94 483.06,255.28 483.78,255.5 484.5,255.64 485.22,255.74 485.94,255.8 486.67,255.84 487.39,255.86 488.11,255.88 488.83,255.89 489.56,255.89 490.28,255.9 491,255.9 491.72,255.9 492.44,255.9 493.17,255.9 493.89,255.9 494.61,255.9 495.33,255.9 496.06,255.9 496.78,255.9 497.5,255.9 498.22,255.9 498.94,255.9 499.67,255.9 500.39,255.9 501.11,255.9 501.83,255.9 502.56,255.9 503.28,255.9 504,255.9 504.72,255.9 505.44,255.9 506.17,255.9 506.89,255.9 507.61,255.9 508.33,255.9 509.06,255.9 509.78,255.9 510.5,255.9 511.22,255.9 511.94,255.9 512.67,255.9 513.39,255.9 514.11,255.9 514.83,255.9 515.56,255.9 516.28,255.9 517,255.9" fill="none" stroke="#dc524c" stroke-width="0.75" stroke-linejoin="round"/>
<polyline points="465,255.88 465.72,255.86 466.44,255.83 467.17,255.77 467.89,255.66 468.61,255.49 469.33,255.23 470.06,254.81 470.78,254.32 471.5,253.41 472.22,251.9 472.94,250.68 473.67,247.89 474.39,244.62 475.11,242.25 475.83,238.73 476.56,233.83 477.28,227.27 478,220.13 478.72,214.69 479.44,210.09 480.17,213.35 480.89,213.55 481.61,214.36 482.33,212.36 483.06,217.41 483.78,217.75 484.5,223.96 485.22,226.5 485.94,228.54 486.67,230.08 487.39,233.61 488.11,237.14 488.83,241.41 489.56,243.64 490.28,246.22 491,248.34 491.72,250.47 492.44,251.21 493.17,252.84 493.89,253.36 494.61,254.11 495.33,254.75 496.06,255.11 496.78,255.37 497.5,255.55 498.22,255.68 498.94,255.76 499.67,255.81 500.39,255.85 501.11,255.87 501.83,255.88 502.56,255.89 503.28,255.89 504,255.9 504.72,255.9 505.44,255.9 506.17,255.9 506.89,255.9 507.61,255.9 508.33,255.9 509.06,255.9 509.78,255.9 510.5,255.9 511.22,255.9 511.94,255.9 512.67,255.9 513.39,255.9 514.11,255.9 514.83,255.9 515.56,255.9 516.28,255.9 517,255.9" fill="none" stroke="#44c6dc" stroke-width="1" stroke-linejoin="round"/>
<text x="516.7" y="209.9" font-size="6.4" text-anchor="end" style="fill:#222;stroke:#222">35.7±9.4</text>
<line x1="467.75" y1="256.7" x2="467.75" y2="258" stroke="#555" stroke-width="0.6"/>
<text x="468.05" y="260.7" font-size="2.8" style="fill:#444;stroke:none" text-anchor="middle">10<tspan font-size="2" dy="-1">0</tspan></text>
<line x1="476" y1="256.7" x2="476" y2="258" stroke="#555" stroke-width="0.6"/>
<text x="476.3" y="260.7" font-size="2.8" style="fill:#444;stroke:none" text-anchor="middle">10<tspan font-size="2" dy="-1">1</tspan></text>
<line x1="488.5" y1="256.7" x2="488.5" y2="258" stroke="#555" stroke-width="0.6"/>
<text x="488.8" y="260.7" font-size="2.8" style="fill:#444;stroke:none" text-anchor="middle">10<tspan font-size="2" dy="-1">2</tspan></text>
<line x1="499" y1="256.7" x2="499" y2="258" stroke="#555" stroke-width="0.6"/>
<text x="499.3" y="260.7" font-size="2.8" style="fill:#444;stroke:none" text-anchor="middle">10<tspan font-size="2" dy="-1">3</tspan></text>
<line x1="509" y1="256.7" x2="509" y2="258" stroke="#555" stroke-width="0.6"/>
<text x="509.3" y="260.7" font-size="2.8" style="fill:#444;stroke:none" text-anchor="middle">10<tspan font-size="2" dy="-1">4</tspan></text>
<line x1="463.5" y1="255.9" x2="464.5" y2="255.9" stroke="#777" stroke-width="0.5"/>
<line x1="463.5" y1="245.7" x2="464.5" y2="245.7" stroke="#777" stroke-width="0.5"/>
<line x1="463.5" y1="235.5" x2="464.5" y2="235.5" stroke="#777" stroke-width="0.5"/>
<line x1="463.5" y1="225.3" x2="464.5" y2="225.3" stroke="#777" stroke-width="0.5"/>
<line x1="463.5" y1="215.1" x2="464.5" y2="215.1" stroke="#777" stroke-width="0.5"/>
<line x1="463.5" y1="204.9" x2="464.5" y2="204.9" stroke="#777" stroke-width="0.5"/>
<text x="11.4" y="259.35" font-size="6.6" text-anchor="end">0</text>
<text x="11.4" y="249.15" font-size="6.6" text-anchor="end">20</text>
<text x="11.4" y="238.95" font-size="6.6" text-anchor="end">40</text>
<text x="11.4" y="228.75" font-size="6.6" text-anchor="end">60</text>
<text x="11.4" y="218.55" font-size="6.6" text-anchor="end">80</text>
<text x="11.4" y="208.35" font-size="6.6" text-anchor="end">100</text>
<line x1="8.8" y1="267.2" x2="515" y2="267.2" stroke="#e0362c" stroke-width="1.25"/>
<text x="286.2" y="277.4" font-size="8" text-anchor="middle" style="fill:#d8382e;stroke:#d8382e">HLA-DR</text>
<rect x="13.5" y="290.6" width="52.75" height="54.6" fill="none" stroke="#8a8a8a" stroke-width="0.8"/>
<polyline points="14,344.4 14.72,344.4 15.44,344.4 16.16,344.4 16.88,344.39 17.59,344.38 18.31,344.33 19.03,344.21 19.75,343.94 20.47,343.38 21.19,342.39 21.91,340.45 22.62,337.29 23.34,332.72 24.06,327.23 24.78,319.53 25.5,309.64 26.22,297.06 26.94,294.71 27.66,295.74 28.38,304.9 29.09,312.69 29.81,319.78 30.53,327.45 31.25,331.68 31.97,336 32.69,338.87 33.41,341.12 34.12,342.61 34.84,343.43 35.56,343.91 36.28,344.17 37,344.3 37.72,344.36 38.44,344.38 39.16,344.39 39.88,344.4 40.59,344.4 41.31,344.4 42.03,344.4 42.75,344.4 43.47,344.4 44.19,344.4 44.91,344.4 45.62,344.4 46.34,344.4 47.06,344.4 47.78,344.4 48.5,344.4 49.22,344.4 49.94,344.4 50.66,344.4 51.38,344.4 52.09,344.4 52.81,344.4 53.53,344.4 54.25,344.4 54.97,344.4 55.69,344.4 56.41,344.4 57.12,344.4 57.84,344.4 58.56,344.4 59.28,344.4 60,344.4 60.72,344.4 61.44,344.4 62.16,344.4 62.88,344.4 63.59,344.4 64.31,344.4 65.03,344.4 65.75,344.4" fill="none" stroke="#dc524c" stroke-width="0.75" stroke-linejoin="round"/>
<polyline points="14,344.29 14.72,344.2 15.44,344.06 16.16,343.85 16.88,343.55 17.59,343.13 18.31,342.47 19.03,341.94 19.75,341.44 20.47,340.7 21.19,339.5 21.91,338.77 22.62,338.29 23.34,337.98 24.06,337.29 24.78,336.86 25.5,335.27 26.22,335.16 26.94,330.9 27.66,326.07 28.38,322.47 29.09,310.12 29.81,301.61 30.53,292.51 31.25,296.93 31.97,301.54 32.69,309.79 33.41,315.03 34.12,324.09 34.84,330.48 35.56,334.86 36.28,338.5 37,341.03 37.72,342.5 38.44,343.33 39.16,343.88 39.88,344.16 40.59,344.3 41.31,344.36 42.03,344.38 42.75,344.39 43.47,344.4 44.19,344.4 44.91,344.4 45.62,344.4 46.34,344.4 47.06,344.4 47.78,344.4 48.5,344.4 49.22,344.4 49.94,344.4 50.66,344.4 51.38,344.4 52.09,344.4 52.81,344.4 53.53,344.4 54.25,344.4 54.97,344.4 55.69,344.4 56.41,344.4 57.12,344.4 57.84,344.4 58.56,344.4 59.28,344.4 60,344.4 60.72,344.4 61.44,344.4 62.16,344.4 62.88,344.4 63.59,344.4 64.31,344.4 65.03,344.4 65.75,344.4" fill="none" stroke="#44c6dc" stroke-width="1" stroke-linejoin="round"/>
<text x="65.45" y="297.4" font-size="6.4" text-anchor="end" style="fill:#222;stroke:#222">6.1±1.1</text>
<line x1="16.73" y1="345.2" x2="16.73" y2="346.5" stroke="#555" stroke-width="0.6"/>
<text x="17.03" y="349.2" font-size="2.8" style="fill:#444;stroke:none" text-anchor="middle">10<tspan font-size="2" dy="-1">0</tspan></text>
<line x1="24.95" y1="345.2" x2="24.95" y2="346.5" stroke="#555" stroke-width="0.6"/>
<text x="25.25" y="349.2" font-size="2.8" style="fill:#444;stroke:none" text-anchor="middle">10<tspan font-size="2" dy="-1">1</tspan></text>
<line x1="37.39" y1="345.2" x2="37.39" y2="346.5" stroke="#555" stroke-width="0.6"/>
<text x="37.69" y="349.2" font-size="2.8" style="fill:#444;stroke:none" text-anchor="middle">10<tspan font-size="2" dy="-1">2</tspan></text>
<line x1="47.84" y1="345.2" x2="47.84" y2="346.5" stroke="#555" stroke-width="0.6"/>
<text x="48.14" y="349.2" font-size="2.8" style="fill:#444;stroke:none" text-anchor="middle">10<tspan font-size="2" dy="-1">3</tspan></text>
<line x1="57.79" y1="345.2" x2="57.79" y2="346.5" stroke="#555" stroke-width="0.6"/>
<text x="58.09" y="349.2" font-size="2.8" style="fill:#444;stroke:none" text-anchor="middle">10<tspan font-size="2" dy="-1">4</tspan></text>
<line x1="12.5" y1="344.4" x2="13.5" y2="344.4" stroke="#777" stroke-width="0.5"/>
<line x1="12.5" y1="334" x2="13.5" y2="334" stroke="#777" stroke-width="0.5"/>
<line x1="12.5" y1="323.6" x2="13.5" y2="323.6" stroke="#777" stroke-width="0.5"/>
<line x1="12.5" y1="313.2" x2="13.5" y2="313.2" stroke="#777" stroke-width="0.5"/>
<line x1="12.5" y1="302.8" x2="13.5" y2="302.8" stroke="#777" stroke-width="0.5"/>
<line x1="12.5" y1="292.4" x2="13.5" y2="292.4" stroke="#777" stroke-width="0.5"/>
<rect x="70.5" y="290.6" width="53" height="54.6" fill="none" stroke="#8a8a8a" stroke-width="0.8"/>
<polyline points="71,344.4 71.72,344.4 72.44,344.4 73.17,344.4 73.89,344.4 74.61,344.39 75.33,344.36 76.06,344.29 76.78,344.11 77.5,343.72 78.22,342.93 78.94,341.42 79.67,339.19 80.39,335.15 81.11,330.6 81.83,323.68 82.56,313.9 83.28,304.22 84,295.52 84.72,292.21 85.44,298.43 86.17,307.8 86.89,317.01 87.61,323.64 88.33,329.39 89.06,334.34 89.78,337.73 90.5,340.51 91.22,342.02 91.94,343.13 92.67,343.75 93.39,344.09 94.11,344.26 94.83,344.34 95.56,344.38 96.28,344.39 97,344.4 97.72,344.4 98.44,344.4 99.17,344.4 99.89,344.4 100.61,344.4 101.33,344.4 102.06,344.4 102.78,344.4 103.5,344.4 104.22,344.4 104.94,344.4 105.67,344.4 106.39,344.4 107.11,344.4 107.83,344.4 108.56,344.4 109.28,344.4 110,344.4 110.72,344.4 111.44,344.4 112.17,344.4 112.89,344.4 113.61,344.4 114.33,344.4 115.06,344.4 115.78,344.4 116.5,344.4 117.22,344.4 117.94,344.4 118.67,344.4 119.39,344.4 120.11,344.4 120.83,344.4 121.56,344.4 122.28,344.4 123,344.4" fill="none" stroke="#dc524c" stroke-width="0.75" stroke-linejoin="round"/>
<polyline points="71,343.72 71.72,343.53 72.44,343.31 73.17,343.09 73.89,342.86 74.61,342.67 75.33,342.4 76.06,342.31 76.78,342.36 77.5,342.39 78.22,341.96 78.94,342.1 79.67,341.5 80.39,340.69 81.11,339.16 81.83,336.04 82.56,331.65 83.28,328.39 84,320.63 84.72,314.49 85.44,304.25 86.17,298.58 86.89,298.66 87.61,301.59 88.33,305.53 89.06,304.59 89.78,310.38 90.5,314.73 91.22,313.97 91.94,316.83 92.67,322.41 93.39,326.53 94.11,329.13 94.83,331.95 95.56,333.74 96.28,336.25 97,337.8 97.72,339.27 98.44,340.28 99.17,341.15 99.89,342.07 100.61,342.82 101.33,343.26 102.06,343.61 102.78,343.86 103.5,344.04 104.22,344.16 104.94,344.25 105.67,344.3 106.39,344.34 107.11,344.36 107.83,344.38 108.56,344.39 109.28,344.39 110,344.4 110.72,344.4 111.44,344.4 112.17,344.4 112.89,344.4 113.61,344.4 114.33,344.4 115.06,344.4 115.78,344.4 116.5,344.4 117.22,344.4 117.94,344.4 118.67,344.4 119.39,344.4 120.11,344.4 120.83,344.4 121.56,344.4 122.28,344.4 123,344.4" fill="none" stroke="#44c6dc" stroke-width="1" stroke-linejoin="round"/>
<text x="122.7" y="297.4" font-size="6.4" text-anchor="end" style="fill:#222;stroke:#222">6.4±1.2</text>
<line x1="73.75" y1="345.2" x2="73.75" y2="346.5" stroke="#555" stroke-width="0.6"/>
<text x="74.05" y="349.2" font-size="2.8" style="fill:#444;stroke:none" text-anchor="middle">10<tspan font-size="2" dy="-1">0</tspan></text>
<line x1="82" y1="345.2" x2="82" y2="346.5" stroke="#555" stroke-width="0.6"/>
<text x="82.3" y="349.2" font-size="2.8" style="fill:#444;stroke:none" text-anchor="middle">10<tspan font-size="2" dy="-1">1</tspan></text>
<line x1="94.5" y1="345.2" x2="94.5" y2="346.5" stroke="#555" stroke-width="0.6"/>
<text x="94.8" y="349.2" font-size="2.8" style="fill:#444;stroke:none" text-anchor="middle">10<tspan font-size="2" dy="-1">2</tspan></text>
<line x1="105" y1="345.2" x2="105" y2="346.5" stroke="#555" stroke-width="0.6"/>
<text x="105.3" y="349.2" font-size="2.8" style="fill:#444;stroke:none" text-anchor="middle">10<tspan font-size="2" dy="-1">3</tspan></text>
<line x1="115" y1="345.2" x2="115" y2="346.5" stroke="#555" stroke-width="0.6"/>
<text x="115.3" y="349.2" font-size="2.8" style="fill:#444;stroke:none" text-anchor="middle">10<tspan font-size="2" dy="-1">4</tspan></text>
<line x1="69.5" y1="344.4" x2="70.5" y2="344.4" stroke="#777" stroke-width="0.5"/>
<line x1="69.5" y1="334" x2="70.5" y2="334" stroke="#777" stroke-width="0.5"/>
<line x1="69.5" y1="323.6" x2="70.5" y2="323.6" stroke="#777" stroke-width="0.5"/>
<line x1="69.5" y1="313.2" x2="70.5" y2="313.2" stroke="#777" stroke-width="0.5"/>
<line x1="69.5" y1="302.8" x2="70.5" y2="302.8" stroke="#777" stroke-width="0.5"/>
<line x1="69.5" y1="292.4" x2="70.5" y2="292.4" stroke="#777" stroke-width="0.5"/>
<rect x="127" y="290.6" width="53" height="54.6" fill="none" stroke="#8a8a8a" stroke-width="0.8"/>
<polyline points="127.5,344.4 128.22,344.4 128.94,344.4 129.67,344.4 130.39,344.4 131.11,344.4 131.83,344.39 132.56,344.38 133.28,344.35 134,344.26 134.72,344.05 135.44,343.6 136.17,342.72 136.89,341.09 137.61,338.54 138.33,334.69 139.06,329.61 139.78,322 140.5,310.6 141.22,302.48 141.94,294.14 142.67,294.24 143.39,300.22 144.11,311.28 144.83,319.3 145.56,325.91 146.28,330.99 147,335.19 147.72,338.2 148.44,340.66 149.17,342.26 149.89,343.28 150.61,343.84 151.33,344.13 152.06,344.28 152.78,344.35 153.5,344.38 154.22,344.39 154.94,344.4 155.67,344.4 156.39,344.4 157.11,344.4 157.83,344.4 158.56,344.4 159.28,344.4 160,344.4 160.72,344.4 161.44,344.4 162.17,344.4 162.89,344.4 163.61,344.4 164.33,344.4 165.06,344.4 165.78,344.4 166.5,344.4 167.22,344.4 167.94,344.4 168.67,344.4 169.39,344.4 170.11,344.4 170.83,344.4 171.56,344.4 172.28,344.4 173,344.4 173.72,344.4 174.44,344.4 175.17,344.4 175.89,344.4 176.61,344.4 177.33,344.4 178.06,344.4 178.78,344.4 179.5,344.4" fill="none" stroke="#dc524c" stroke-width="0.75" stroke-linejoin="round"/>
<polyline points="127.5,343.73 128.22,343.49 128.94,343.21 129.67,342.9 130.39,342.72 131.11,342.4 131.83,341.81 132.56,341.43 133.28,341.42 134,341.22 134.72,341.49 135.44,341.22 136.17,340.83 136.89,340.62 137.61,339.96 138.33,338.57 139.06,337.29 139.78,334.54 140.5,330.33 141.22,323.58 141.94,315.49 142.67,304.96 143.39,298.07 144.11,294.42 144.83,295.02 145.56,302.04 146.28,305.88 147,312.72 147.72,311.42 148.44,317.55 149.17,317.62 149.89,322.31 150.61,326.81 151.33,330.29 152.06,332.66 152.78,334.39 153.5,336.51 154.22,338.99 154.94,340.39 155.67,341.21 156.39,342.09 157.11,342.83 157.83,343.3 158.56,343.66 159.28,343.91 160,344.08 160.72,344.2 161.44,344.28 162.17,344.33 162.89,344.36 163.61,344.37 164.33,344.39 165.06,344.39 165.78,344.4 166.5,344.4 167.22,344.4 167.94,344.4 168.67,344.4 169.39,344.4 170.11,344.4 170.83,344.4 171.56,344.4 172.28,344.4 173,344.4 173.72,344.4 174.44,344.4 175.17,344.4 175.89,344.4 176.61,344.4 177.33,344.4 178.06,344.4 178.78,344.4 179.5,344.4" fill="none" stroke="#44c6dc" stroke-width="1" stroke-linejoin="round"/>
<text x="179.2" y="297.4" font-size="6.4" text-anchor="end" style="fill:#222;stroke:#222">6.9±1.5</text>
<line x1="130.25" y1="345.2" x2="130.25" y2="346.5" stroke="#555" stroke-width="0.6"/>
<text x="130.55" y="349.2" font-size="2.8" style="fill:#444;stroke:none" text-anchor="middle">10<tspan font-size="2" dy="-1">0</tspan></text>
<line x1="138.5" y1="345.2" x2="138.5" y2="346.5" stroke="#555" stroke-width="0.6"/>
<text x="138.8" y="349.2" font-size="2.8" style="fill:#444;stroke:none" text-anchor="middle">10<tspan font-size="2" dy="-1">1</tspan></text>
<line x1="151" y1="345.2" x2="151" y2="346.5" stroke="#555" stroke-width="0.6"/>
<text x="151.3" y="349.2" font-size="2.8" style="fill:#444;stroke:none" text-anchor="middle">10<tspan font-size="2" dy="-1">2</tspan></text>
<line x1="161.5" y1="345.2" x2="161.5" y2="346.5" stroke="#555" stroke-width="0.6"/>
<text x="161.8" y="349.2" font-size="2.8" style="fill:#444;stroke:none" text-anchor="middle">10<tspan font-size="2" dy="-1">3</tspan></text>
<line x1="171.5" y1="345.2" x2="171.5" y2="346.5" stroke="#555" stroke-width="0.6"/>
<text x="171.8" y="349.2" font-size="2.8" style="fill:#444;stroke:none" text-anchor="middle">10<tspan font-size="2" dy="-1">4</tspan></text>
<line x1="126" y1="344.4" x2="127" y2="344.4" stroke="#777" stroke-width="0.5"/>
<line x1="126" y1="334" x2="127" y2="334" stroke="#777" stroke-width="0.5"/>
<line x1="126" y1="323.6" x2="127" y2="323.6" stroke="#777" stroke-width="0.5"/>
<line x1="126" y1="313.2" x2="127" y2="313.2" stroke="#777" stroke-width="0.5"/>
<line x1="126" y1="302.8" x2="127" y2="302.8" stroke="#777" stroke-width="0.5"/>
<line x1="126" y1="292.4" x2="127" y2="292.4" stroke="#777" stroke-width="0.5"/>
<rect x="183.75" y="290.6" width="53" height="54.6" fill="none" stroke="#8a8a8a" stroke-width="0.8"/>
<polyline points="184.25,344.4 184.97,344.4 185.69,344.4 186.42,344.4 187.14,344.39 187.86,344.37 188.58,344.3 189.31,344.15 190.03,343.81 190.75,343.1 191.47,341.85 192.19,339.54 192.92,336.5 193.64,331.51 194.36,324.69 195.08,314.61 195.81,304.53 196.53,294.5 197.25,293.76 197.97,299.47 198.69,307.9 199.42,314.89 200.14,322.89 200.86,329.28 201.58,334.1 202.31,337.33 203.03,339.94 203.75,341.84 204.47,342.98 205.19,343.67 205.92,344.04 206.64,344.24 207.36,344.33 208.08,344.37 208.81,344.39 209.53,344.4 210.25,344.4 210.97,344.4 211.69,344.4 212.42,344.4 213.14,344.4 213.86,344.4 214.58,344.4 215.31,344.4 216.03,344.4 216.75,344.4 217.47,344.4 218.19,344.4 218.92,344.4 219.64,344.4 220.36,344.4 221.08,344.4 221.81,344.4 222.53,344.4 223.25,344.4 223.97,344.4 224.69,344.4 225.42,344.4 226.14,344.4 226.86,344.4 227.58,344.4 228.31,344.4 229.03,344.4 229.75,344.4 230.47,344.4 231.19,344.4 231.92,344.4 232.64,344.4 233.36,344.4 234.08,344.4 234.81,344.4 235.53,344.4 236.25,344.4" fill="none" stroke="#dc524c" stroke-width="0.75" stroke-linejoin="round"/>
<polyline points="184.25,344.4 184.97,344.4 185.69,344.4 186.42,344.4 187.14,344.4 187.86,344.4 188.58,344.4 189.31,344.39 190.03,344.39 190.75,344.38 191.47,344.36 192.19,344.33 192.92,344.28 193.64,344.2 194.36,344.07 195.08,343.89 195.81,343.61 196.53,343.21 197.25,342.72 197.97,341.79 198.69,340.56 199.42,339.73 200.14,338.35 200.86,335.96 201.58,333.38 202.31,329.88 203.03,328.06 203.75,322.51 204.47,318.89 205.19,316.1 205.92,313.79 206.64,304.52 207.36,304.32 208.08,296.19 208.81,299.04 209.53,299.83 210.25,298.24 210.97,305.37 211.69,304.25 212.42,310.41 213.14,315.18 213.86,317.97 214.58,320.18 215.31,322.41 216.03,324.71 216.75,330.11 217.47,332.08 218.19,334.77 218.92,335.65 219.64,338.51 220.36,339.97 221.08,341.06 221.81,341.77 222.53,342.31 223.25,343.01 223.97,343.43 224.69,343.73 225.42,343.95 226.14,344.1 226.86,344.2 227.58,344.27 228.31,344.32 229.03,344.35 229.75,344.37 230.47,344.38 231.19,344.39 231.92,344.39 232.64,344.4 233.36,344.4 234.08,344.4 234.81,344.4 235.53,344.4 236.25,344.4" fill="none" stroke="#44c6dc" stroke-width="1" stroke-linejoin="round"/>
<text x="235.95" y="297.4" font-size="6.4" text-anchor="end" style="fill:#222;stroke:#222">31.8±4.7</text>
<line x1="187" y1="345.2" x2="187" y2="346.5" stroke="#555" stroke-width="0.6"/>
<text x="187.3" y="349.2" font-size="2.8" style="fill:#444;stroke:none" text-anchor="middle">10<tspan font-size="2" dy="-1">0</tspan></text>
<line x1="195.25" y1="345.2" x2="195.25" y2="346.5" stroke="#555" stroke-width="0.6"/>
<text x="195.55" y="349.2" font-size="2.8" style="fill:#444;stroke:none" text-anchor="middle">10<tspan font-size="2" dy="-1">1</tspan></text>
<line x1="207.75" y1="345.2" x2="207.75" y2="346.5" stroke="#555" stroke-width="0.6"/>
<text x="208.05" y="349.2" font-size="2.8" style="fill:#444;stroke:none" text-anchor="middle">10<tspan font-size="2" dy="-1">2</tspan></text>
<line x1="218.25" y1="345.2" x2="218.25" y2="346.5" stroke="#555" stroke-width="0.6"/>
<text x="218.55" y="349.2" font-size="2.8" style="fill:#444;stroke:none" text-anchor="middle">10<tspan font-size="2" dy="-1">3</tspan></text>
<line x1="228.25" y1="345.2" x2="228.25" y2="346.5" stroke="#555" stroke-width="0.6"/>
<text x="228.55" y="349.2" font-size="2.8" style="fill:#444;stroke:none" text-anchor="middle">10<tspan font-size="2" dy="-1">4</tspan></text>
<line x1="182.75" y1="344.4" x2="183.75" y2="344.4" stroke="#777" stroke-width="0.5"/>
<line x1="182.75" y1="334" x2="183.75" y2="334" stroke="#777" stroke-width="0.5"/>
<line x1="182.75" y1="323.6" x2="183.75" y2="323.6" stroke="#777" stroke-width="0.5"/>
<line x1="182.75" y1="313.2" x2="183.75" y2="313.2" stroke="#777" stroke-width="0.5"/>
<line x1="182.75" y1="302.8" x2="183.75" y2="302.8" stroke="#777" stroke-width="0.5"/>
<line x1="182.75" y1="292.4" x2="183.75" y2="292.4" stroke="#777" stroke-width="0.5"/>
<rect x="240.3" y="290.6" width="51.9" height="54.6" fill="none" stroke="#8a8a8a" stroke-width="0.8"/>
<polyline points="240.8,344.4 241.51,344.4 242.21,344.4 242.92,344.4 243.63,344.39 244.33,344.36 245.04,344.3 245.75,344.15 246.46,343.82 247.16,343.15 247.87,341.84 248.58,339.75 249.28,336.33 249.99,331.64 250.7,326.08 251.4,318.12 252.11,305.84 252.82,296.64 253.53,295.37 254.23,296.06 254.94,304.92 255.65,313.69 256.35,321.34 257.06,327.62 257.77,332.59 258.47,336.18 259.18,339.07 259.89,341.01 260.59,342.58 261.3,343.39 262.01,343.89 262.72,344.15 263.42,344.29 264.13,344.35 264.84,344.38 265.54,344.39 266.25,344.4 266.96,344.4 267.66,344.4 268.37,344.4 269.08,344.4 269.78,344.4 270.49,344.4 271.2,344.4 271.91,344.4 272.61,344.4 273.32,344.4 274.03,344.4 274.73,344.4 275.44,344.4 276.15,344.4 276.85,344.4 277.56,344.4 278.27,344.4 278.98,344.4 279.68,344.4 280.39,344.4 281.1,344.4 281.8,344.4 282.51,344.4 283.22,344.4 283.92,344.4 284.63,344.4 285.34,344.4 286.04,344.4 286.75,344.4 287.46,344.4 288.17,344.4 288.87,344.4 289.58,344.4 290.29,344.4 290.99,344.4 291.7,344.4" fill="none" stroke="#dc524c" stroke-width="0.75" stroke-linejoin="round"/>
<polyline points="240.8,344.35 241.51,344.33 242.21,344.31 242.92,344.27 243.63,344.23 244.33,344.17 245.04,344.1 245.75,344.01 246.46,343.9 247.16,343.77 247.87,343.61 248.58,343.43 249.28,343.22 249.99,342.98 250.7,342.58 251.4,342.55 252.11,342.21 252.82,341.7 253.53,341.38 254.23,341.28 254.94,341.22 255.65,340.67 256.35,340.47 257.06,339.79 257.77,340.11 258.47,339.71 259.18,338.94 259.89,339.41 260.59,338.58 261.3,337.52 262.01,336.77 262.72,336.82 263.42,335.72 264.13,334.3 264.84,330.7 265.54,330.23 266.25,326.46 266.96,323.18 267.66,322.43 268.37,319.86 269.08,313.44 269.78,312.15 270.49,311.37 271.2,305.45 271.91,305 272.61,301.91 273.32,301.2 274.03,293.17 274.73,293.05 275.44,299.35 276.15,302.34 276.85,313.48 277.56,316.77 278.27,319.98 278.98,322.42 279.68,326.68 280.39,331.8 281.1,335.02 281.8,337.2 282.51,339.15 283.22,340.43 283.92,342.03 284.63,342.64 285.34,343.32 286.04,343.72 286.75,343.99 287.46,344.15 288.17,344.26 288.87,344.32 289.58,344.36 290.29,344.38 290.99,344.39 291.7,344.39" fill="none" stroke="#44c6dc" stroke-width="1" stroke-linejoin="round"/>
<text x="291.4" y="297.4" font-size="6.4" text-anchor="end" style="fill:#222;stroke:#222">126.9±10.2</text>
<line x1="243.48" y1="345.2" x2="243.48" y2="346.5" stroke="#555" stroke-width="0.6"/>
<text x="243.78" y="349.2" font-size="2.8" style="fill:#444;stroke:none" text-anchor="middle">10<tspan font-size="2" dy="-1">0</tspan></text>
<line x1="251.56" y1="345.2" x2="251.56" y2="346.5" stroke="#555" stroke-width="0.6"/>
<text x="251.86" y="349.2" font-size="2.8" style="fill:#444;stroke:none" text-anchor="middle">10<tspan font-size="2" dy="-1">1</tspan></text>
<line x1="263.8" y1="345.2" x2="263.8" y2="346.5" stroke="#555" stroke-width="0.6"/>
<text x="264.1" y="349.2" font-size="2.8" style="fill:#444;stroke:none" text-anchor="middle">10<tspan font-size="2" dy="-1">2</tspan></text>
<line x1="274.08" y1="345.2" x2="274.08" y2="346.5" stroke="#555" stroke-width="0.6"/>
<text x="274.38" y="349.2" font-size="2.8" style="fill:#444;stroke:none" text-anchor="middle">10<tspan font-size="2" dy="-1">3</tspan></text>
<line x1="283.88" y1="345.2" x2="283.88" y2="346.5" stroke="#555" stroke-width="0.6"/>
<text x="284.18" y="349.2" font-size="2.8" style="fill:#444;stroke:none" text-anchor="middle">10<tspan font-size="2" dy="-1">4</tspan></text>
<line x1="239.3" y1="344.4" x2="240.3" y2="344.4" stroke="#777" stroke-width="0.5"/>
<line x1="239.3" y1="334" x2="240.3" y2="334" stroke="#777" stroke-width="0.5"/>
<line x1="239.3" y1="323.6" x2="240.3" y2="323.6" stroke="#777" stroke-width="0.5"/>
<line x1="239.3" y1="313.2" x2="240.3" y2="313.2" stroke="#777" stroke-width="0.5"/>
<line x1="239.3" y1="302.8" x2="240.3" y2="302.8" stroke="#777" stroke-width="0.5"/>
<line x1="239.3" y1="292.4" x2="240.3" y2="292.4" stroke="#777" stroke-width="0.5"/>
<rect x="298" y="290.6" width="52.5" height="54.6" fill="none" stroke="#8a8a8a" stroke-width="0.8"/>
<polyline points="298.5,344.4 299.22,344.4 299.93,344.4 300.65,344.4 301.36,344.4 302.08,344.39 302.79,344.38 303.51,344.35 304.22,344.26 304.94,344.05 305.65,343.59 306.37,342.67 307.08,341.03 307.8,338.41 308.51,334.6 309.23,329.52 309.94,322.32 310.66,312.76 311.38,300.87 312.09,296.13 312.81,295.63 313.52,299.78 314.24,310.28 314.95,318.89 315.67,325.52 316.38,330.18 317.1,334.74 317.81,337.74 318.53,340.32 319.24,342.01 319.96,343.14 320.67,343.75 321.39,344.09 322.1,344.26 322.82,344.34 323.53,344.38 324.25,344.39 324.97,344.4 325.68,344.4 326.4,344.4 327.11,344.4 327.83,344.4 328.54,344.4 329.26,344.4 329.97,344.4 330.69,344.4 331.4,344.4 332.12,344.4 332.83,344.4 333.55,344.4 334.26,344.4 334.98,344.4 335.69,344.4 336.41,344.4 337.12,344.4 337.84,344.4 338.56,344.4 339.27,344.4 339.99,344.4 340.7,344.4 341.42,344.4 342.13,344.4 342.85,344.4 343.56,344.4 344.28,344.4 344.99,344.4 345.71,344.4 346.42,344.4 347.14,344.4 347.85,344.4 348.57,344.4 349.28,344.4 350,344.4" fill="none" stroke="#dc524c" stroke-width="0.75" stroke-linejoin="round"/>
<polyline points="298.5,344.4 299.22,344.4 299.93,344.4 300.65,344.4 301.36,344.4 302.08,344.4 302.79,344.4 303.51,344.4 304.22,344.4 304.94,344.4 305.65,344.4 306.37,344.4 307.08,344.4 307.8,344.39 308.51,344.36 309.23,344.29 309.94,344.13 310.66,343.79 311.38,343.12 312.09,341.99 312.81,340.16 313.52,337.23 314.24,332.24 314.95,325.72 315.67,319.19 316.38,311.55 317.1,301.47 317.81,294.32 318.53,294.98 319.24,300.52 319.96,307.45 320.67,315.14 321.39,322.93 322.1,325.05 322.82,331.02 323.53,334.13 324.25,337.47 324.97,339.46 325.68,341.53 326.4,342.63 327.11,343.31 327.83,343.79 328.54,344.07 329.26,344.23 329.97,344.32 330.69,344.36 331.4,344.38 332.12,344.39 332.83,344.4 333.55,344.4 334.26,344.4 334.98,344.4 335.69,344.4 336.41,344.4 337.12,344.4 337.84,344.4 338.56,344.4 339.27,344.4 339.99,344.4 340.7,344.4 341.42,344.4 342.13,344.4 342.85,344.4 343.56,344.4 344.28,344.4 344.99,344.4 345.71,344.4 346.42,344.4 347.14,344.4 347.85,344.4 348.57,344.4 349.28,344.4 350,344.4" fill="none" stroke="#44c6dc" stroke-width="1" stroke-linejoin="round"/>
<text x="349.7" y="297.4" font-size="6.4" text-anchor="end" style="fill:#222;stroke:#222">9.4±1.1</text>
<line x1="301.22" y1="345.2" x2="301.22" y2="346.5" stroke="#555" stroke-width="0.6"/>
<text x="301.52" y="349.2" font-size="2.8" style="fill:#444;stroke:none" text-anchor="middle">10<tspan font-size="2" dy="-1">0</tspan></text>
<line x1="309.39" y1="345.2" x2="309.39" y2="346.5" stroke="#555" stroke-width="0.6"/>
<text x="309.69" y="349.2" font-size="2.8" style="fill:#444;stroke:none" text-anchor="middle">10<tspan font-size="2" dy="-1">1</tspan></text>
<line x1="321.77" y1="345.2" x2="321.77" y2="346.5" stroke="#555" stroke-width="0.6"/>
<text x="322.07" y="349.2" font-size="2.8" style="fill:#444;stroke:none" text-anchor="middle">10<tspan font-size="2" dy="-1">2</tspan></text>
<line x1="332.17" y1="345.2" x2="332.17" y2="346.5" stroke="#555" stroke-width="0.6"/>
<text x="332.47" y="349.2" font-size="2.8" style="fill:#444;stroke:none" text-anchor="middle">10<tspan font-size="2" dy="-1">3</tspan></text>
<line x1="342.08" y1="345.2" x2="342.08" y2="346.5" stroke="#555" stroke-width="0.6"/>
<text x="342.38" y="349.2" font-size="2.8" style="fill:#444;stroke:none" text-anchor="middle">10<tspan font-size="2" dy="-1">4</tspan></text>
<line x1="297" y1="344.4" x2="298" y2="344.4" stroke="#777" stroke-width="0.5"/>
<line x1="297" y1="334" x2="298" y2="334" stroke="#777" stroke-width="0.5"/>
<line x1="297" y1="323.6" x2="298" y2="323.6" stroke="#777" stroke-width="0.5"/>
<line x1="297" y1="313.2" x2="298" y2="313.2" stroke="#777" stroke-width="0.5"/>
<line x1="297" y1="302.8" x2="298" y2="302.8" stroke="#777" stroke-width="0.5"/>
<line x1="297" y1="292.4" x2="298" y2="292.4" stroke="#777" stroke-width="0.5"/>
<rect x="354.5" y="290.6" width="53" height="54.6" fill="none" stroke="#8a8a8a" stroke-width="0.8"/>
<polyline points="355,344.4 355.72,344.4 356.44,344.4 357.17,344.4 357.89,344.39 358.61,344.37 359.33,344.32 360.06,344.18 360.78,343.87 361.5,343.23 362.22,342.07 362.94,340.08 363.67,336.49 364.39,332 365.11,325.94 365.83,317.28 366.56,304.98 367.28,296.91 368,294.58 368.72,296.35 369.44,305.39 370.17,313.64 370.89,323.02 371.61,328.34 372.33,332.82 373.06,336.68 373.78,339.53 374.5,341.72 375.22,342.86 375.94,343.59 376.67,344.01 377.39,344.22 378.11,344.32 378.83,344.37 379.56,344.39 380.28,344.4 381,344.4 381.72,344.4 382.44,344.4 383.17,344.4 383.89,344.4 384.61,344.4 385.33,344.4 386.06,344.4 386.78,344.4 387.5,344.4 388.22,344.4 388.94,344.4 389.67,344.4 390.39,344.4 391.11,344.4 391.83,344.4 392.56,344.4 393.28,344.4 394,344.4 394.72,344.4 395.44,344.4 396.17,344.4 396.89,344.4 397.61,344.4 398.33,344.4 399.06,344.4 399.78,344.4 400.5,344.4 401.22,344.4 401.94,344.4 402.67,344.4 403.39,344.4 404.11,344.4 404.83,344.4 405.56,344.4 406.28,344.4 407,344.4" fill="none" stroke="#dc524c" stroke-width="0.75" stroke-linejoin="round"/>
<polyline points="355,343.84 355.72,343.64 356.44,343.41 357.17,343.15 357.89,342.87 358.61,342.65 359.33,342.45 360.06,342.2 360.78,341.64 361.5,341.62 362.22,341.22 362.94,341.2 363.67,340.26 364.39,339.47 365.11,337.89 365.83,334.28 366.56,329.64 367.28,326.69 368,317.83 368.72,308.93 369.44,303.38 370.17,297.31 370.89,299.95 371.61,303.21 372.33,306.59 373.06,307.06 373.78,309.02 374.5,313.88 375.22,317.18 375.94,317.97 376.67,319.01 377.39,323.76 378.11,325.85 378.83,328.67 379.56,329.45 380.28,332.33 381,335.24 381.72,336.83 382.44,337.93 383.17,339.09 383.89,340.15 384.61,341.42 385.33,342.08 386.06,342.47 386.78,343.01 387.5,343.38 388.22,343.66 388.94,343.87 389.67,344.02 390.39,344.14 391.11,344.22 391.83,344.28 392.56,344.32 393.28,344.35 394,344.36 394.72,344.38 395.44,344.39 396.17,344.39 396.89,344.39 397.61,344.4 398.33,344.4 399.06,344.4 399.78,344.4 400.5,344.4 401.22,344.4 401.94,344.4 402.67,344.4 403.39,344.4 404.11,344.4 404.83,344.4 405.56,344.4 406.28,344.4 407,344.4" fill="none" stroke="#44c6dc" stroke-width="1" stroke-linejoin="round"/>
<text x="406.7" y="297.4" font-size="6.4" text-anchor="end" style="fill:#222;stroke:#222">7.9±0.9</text>
<line x1="357.75" y1="345.2" x2="357.75" y2="346.5" stroke="#555" stroke-width="0.6"/>
<text x="358.05" y="349.2" font-size="2.8" style="fill:#444;stroke:none" text-anchor="middle">10<tspan font-size="2" dy="-1">0</tspan></text>
<line x1="366" y1="345.2" x2="366" y2="346.5" stroke="#555" stroke-width="0.6"/>
<text x="366.3" y="349.2" font-size="2.8" style="fill:#444;stroke:none" text-anchor="middle">10<tspan font-size="2" dy="-1">1</tspan></text>
<line x1="378.5" y1="345.2" x2="378.5" y2="346.5" stroke="#555" stroke-width="0.6"/>
<text x="378.8" y="349.2" font-size="2.8" style="fill:#444;stroke:none" text-anchor="middle">10<tspan font-size="2" dy="-1">2</tspan></text>
<line x1="389" y1="345.2" x2="389" y2="346.5" stroke="#555" stroke-width="0.6"/>
<text x="389.3" y="349.2" font-size="2.8" style="fill:#444;stroke:none" text-anchor="middle">10<tspan font-size="2" dy="-1">3</tspan></text>
<line x1="399" y1="345.2" x2="399" y2="346.5" stroke="#555" stroke-width="0.6"/>
<text x="399.3" y="349.2" font-size="2.8" style="fill:#444;stroke:none" text-anchor="middle">10<tspan font-size="2" dy="-1">4</tspan></text>
<line x1="353.5" y1="344.4" x2="354.5" y2="344.4" stroke="#777" stroke-width="0.5"/>
<line x1="353.5" y1="334" x2="354.5" y2="334" stroke="#777" stroke-width="0.5"/>
<line x1="353.5" y1="323.6" x2="354.5" y2="323.6" stroke="#777" stroke-width="0.5"/>
<line x1="353.5" y1="313.2" x2="354.5" y2="313.2" stroke="#777" stroke-width="0.5"/>
<line x1="353.5" y1="302.8" x2="354.5" y2="302.8" stroke="#777" stroke-width="0.5"/>
<line x1="353.5" y1="292.4" x2="354.5" y2="292.4" stroke="#777" stroke-width="0.5"/>
<rect x="410.5" y="290.6" width="52" height="54.6" fill="none" stroke="#8a8a8a" stroke-width="0.8"/>
<polyline points="411,344.4 411.71,344.4 412.42,344.4 413.12,344.4 413.83,344.39 414.54,344.36 415.25,344.29 415.96,344.12 416.67,343.74 417.38,343 418.08,341.67 418.79,339.49 419.5,336.11 420.21,330.67 420.92,324.87 421.62,315.63 422.33,305.76 423.04,296.64 423.75,292.07 424.46,296 425.17,306.57 425.88,315.61 426.58,321.86 427.29,328.55 428,333.37 428.71,336.42 429.42,339.51 430.12,341.38 430.83,342.75 431.54,343.51 432.25,343.96 432.96,344.19 433.67,344.31 434.38,344.36 435.08,344.38 435.79,344.39 436.5,344.4 437.21,344.4 437.92,344.4 438.62,344.4 439.33,344.4 440.04,344.4 440.75,344.4 441.46,344.4 442.17,344.4 442.88,344.4 443.58,344.4 444.29,344.4 445,344.4 445.71,344.4 446.42,344.4 447.12,344.4 447.83,344.4 448.54,344.4 449.25,344.4 449.96,344.4 450.67,344.4 451.38,344.4 452.08,344.4 452.79,344.4 453.5,344.4 454.21,344.4 454.92,344.4 455.62,344.4 456.33,344.4 457.04,344.4 457.75,344.4 458.46,344.4 459.17,344.4 459.88,344.4 460.58,344.4 461.29,344.4 462,344.4" fill="none" stroke="#dc524c" stroke-width="0.75" stroke-linejoin="round"/>
<polyline points="411,344.4 411.71,344.4 412.42,344.4 413.12,344.4 413.83,344.4 414.54,344.4 415.25,344.4 415.96,344.4 416.67,344.4 417.38,344.4 418.08,344.4 418.79,344.39 419.5,344.39 420.21,344.38 420.92,344.37 421.62,344.34 422.33,344.3 423.04,344.24 423.75,344.14 424.46,343.99 425.17,343.76 425.88,343.43 426.58,342.97 427.29,342.19 428,341.49 428.71,340.58 429.42,339.36 430.12,336.99 430.83,334.62 431.54,331.38 432.25,330.43 432.96,325.63 433.67,323.02 434.38,318.85 435.08,317.03 435.79,312.68 436.5,307.26 437.21,299.97 437.92,302.27 438.62,296.52 439.33,293.71 440.04,294.96 440.75,304.95 441.46,309.32 442.17,307.91 442.88,311.61 443.58,317.8 444.29,323.09 445,323.14 445.71,328.24 446.42,329.92 447.12,333.33 447.83,335.38 448.54,338.24 449.25,339.18 449.96,340.91 450.67,341.78 451.38,342.39 452.08,343.08 452.79,343.5 453.5,343.79 454.21,344 454.92,344.14 455.62,344.24 456.33,344.3 457.04,344.34 457.75,344.36 458.46,344.38 459.17,344.39 459.88,344.39 460.58,344.4 461.29,344.4 462,344.4" fill="none" stroke="#44c6dc" stroke-width="1" stroke-linejoin="round"/>
<text x="461.7" y="297.4" font-size="6.4" text-anchor="end" style="fill:#222;stroke:#222">44.7±5.9</text>
<line x1="413.69" y1="345.2" x2="413.69" y2="346.5" stroke="#555" stroke-width="0.6"/>
<text x="413.99" y="349.2" font-size="2.8" style="fill:#444;stroke:none" text-anchor="middle">10<tspan font-size="2" dy="-1">0</tspan></text>
<line x1="421.78" y1="345.2" x2="421.78" y2="346.5" stroke="#555" stroke-width="0.6"/>
<text x="422.08" y="349.2" font-size="2.8" style="fill:#444;stroke:none" text-anchor="middle">10<tspan font-size="2" dy="-1">1</tspan></text>
<line x1="434.05" y1="345.2" x2="434.05" y2="346.5" stroke="#555" stroke-width="0.6"/>
<text x="434.35" y="349.2" font-size="2.8" style="fill:#444;stroke:none" text-anchor="middle">10<tspan font-size="2" dy="-1">2</tspan></text>
<line x1="444.35" y1="345.2" x2="444.35" y2="346.5" stroke="#555" stroke-width="0.6"/>
<text x="444.65" y="349.2" font-size="2.8" style="fill:#444;stroke:none" text-anchor="middle">10<tspan font-size="2" dy="-1">3</tspan></text>
<line x1="454.16" y1="345.2" x2="454.16" y2="346.5" stroke="#555" stroke-width="0.6"/>
<text x="454.46" y="349.2" font-size="2.8" style="fill:#444;stroke:none" text-anchor="middle">10<tspan font-size="2" dy="-1">4</tspan></text>
<line x1="409.5" y1="344.4" x2="410.5" y2="344.4" stroke="#777" stroke-width="0.5"/>
<line x1="409.5" y1="334" x2="410.5" y2="334" stroke="#777" stroke-width="0.5"/>
<line x1="409.5" y1="323.6" x2="410.5" y2="323.6" stroke="#777" stroke-width="0.5"/>
<line x1="409.5" y1="313.2" x2="410.5" y2="313.2" stroke="#777" stroke-width="0.5"/>
<line x1="409.5" y1="302.8" x2="410.5" y2="302.8" stroke="#777" stroke-width="0.5"/>
<line x1="409.5" y1="292.4" x2="410.5" y2="292.4" stroke="#777" stroke-width="0.5"/>
<rect x="464.5" y="290.6" width="53" height="54.6" fill="none" stroke="#8a8a8a" stroke-width="0.8"/>
<polyline points="465,344.4 465.72,344.4 466.44,344.4 467.17,344.4 467.89,344.38 468.61,344.35 469.33,344.27 470.06,344.08 470.78,343.66 471.5,342.77 472.22,341.37 472.94,338.9 473.67,335.06 474.39,329.64 475.11,322.59 475.83,313.75 476.56,302.96 477.28,293.62 478,292.8 478.72,302.29 479.44,309.5 480.17,317.59 480.89,325.69 481.61,330.06 482.33,335.09 483.06,338.11 483.78,340.57 484.5,342.18 485.22,343.21 485.94,343.8 486.67,344.11 487.39,344.27 488.11,344.35 488.83,344.38 489.56,344.39 490.28,344.4 491,344.4 491.72,344.4 492.44,344.4 493.17,344.4 493.89,344.4 494.61,344.4 495.33,344.4 496.06,344.4 496.78,344.4 497.5,344.4 498.22,344.4 498.94,344.4 499.67,344.4 500.39,344.4 501.11,344.4 501.83,344.4 502.56,344.4 503.28,344.4 504,344.4 504.72,344.4 505.44,344.4 506.17,344.4 506.89,344.4 507.61,344.4 508.33,344.4 509.06,344.4 509.78,344.4 510.5,344.4 511.22,344.4 511.94,344.4 512.67,344.4 513.39,344.4 514.11,344.4 514.83,344.4 515.56,344.4 516.28,344.4 517,344.4" fill="none" stroke="#dc524c" stroke-width="0.75" stroke-linejoin="round"/>
<polyline points="465,344.02 465.72,343.92 466.44,343.8 467.17,343.66 467.89,343.5 468.61,343.31 469.33,343.1 470.06,342.87 470.78,342.67 471.5,342.36 472.22,342 472.94,341.75 473.67,341.31 474.39,341.1 475.11,340.79 475.83,340.78 476.56,340.06 477.28,339.89 478,339.88 478.72,339.23 479.44,339.07 480.17,339.28 480.89,339.5 481.61,339.23 482.33,339.6 483.06,339.62 483.78,339.4 484.5,339.78 485.22,339.56 485.94,339.61 486.67,340.12 487.39,339.75 488.11,340.31 488.83,339.89 489.56,339.91 490.28,340.06 491,340.23 491.72,339.4 492.44,338.71 493.17,336.68 493.89,335.92 494.61,331.94 495.33,327.98 496.06,324.49 496.78,319.31 497.5,316.97 498.22,306.09 498.94,302.2 499.67,292.01 500.39,291.36 501.11,299.7 501.83,302.14 502.56,310.18 503.28,322.01 504,326.76 504.72,330.73 505.44,335.93 506.17,338.02 506.89,340.78 507.61,341.96 508.33,343 509.06,343.55 509.78,343.86 510.5,344.03 511.22,344.13 511.94,344.19 512.67,344.23 513.39,344.26 514.11,344.28 514.83,344.3 515.56,344.32 516.28,344.33 517,344.34" fill="none" stroke="#44c6dc" stroke-width="1" stroke-linejoin="round"/>
<text x="516.7" y="297.4" font-size="6.4" text-anchor="end" style="fill:#222;stroke:#222">183.2±11.4</text>
<line x1="467.75" y1="345.2" x2="467.75" y2="346.5" stroke="#555" stroke-width="0.6"/>
<text x="468.05" y="349.2" font-size="2.8" style="fill:#444;stroke:none" text-anchor="middle">10<tspan font-size="2" dy="-1">0</tspan></text>
<line x1="476" y1="345.2" x2="476" y2="346.5" stroke="#555" stroke-width="0.6"/>
<text x="476.3" y="349.2" font-size="2.8" style="fill:#444;stroke:none" text-anchor="middle">10<tspan font-size="2" dy="-1">1</tspan></text>
<line x1="488.5" y1="345.2" x2="488.5" y2="346.5" stroke="#555" stroke-width="0.6"/>
<text x="488.8" y="349.2" font-size="2.8" style="fill:#444;stroke:none" text-anchor="middle">10<tspan font-size="2" dy="-1">2</tspan></text>
<line x1="499" y1="345.2" x2="499" y2="346.5" stroke="#555" stroke-width="0.6"/>
<text x="499.3" y="349.2" font-size="2.8" style="fill:#444;stroke:none" text-anchor="middle">10<tspan font-size="2" dy="-1">3</tspan></text>
<line x1="509" y1="345.2" x2="509" y2="346.5" stroke="#555" stroke-width="0.6"/>
<text x="509.3" y="349.2" font-size="2.8" style="fill:#444;stroke:none" text-anchor="middle">10<tspan font-size="2" dy="-1">4</tspan></text>
<line x1="463.5" y1="344.4" x2="464.5" y2="344.4" stroke="#777" stroke-width="0.5"/>
<line x1="463.5" y1="334" x2="464.5" y2="334" stroke="#777" stroke-width="0.5"/>
<line x1="463.5" y1="323.6" x2="464.5" y2="323.6" stroke="#777" stroke-width="0.5"/>
<line x1="463.5" y1="313.2" x2="464.5" y2="313.2" stroke="#777" stroke-width="0.5"/>
<line x1="463.5" y1="302.8" x2="464.5" y2="302.8" stroke="#777" stroke-width="0.5"/>
<line x1="463.5" y1="292.4" x2="464.5" y2="292.4" stroke="#777" stroke-width="0.5"/>
<text x="11.4" y="347.35" font-size="6.6" text-anchor="end">0</text>
<text x="11.4" y="336.85" font-size="6.6" text-anchor="end">20</text>
<text x="11.4" y="326.35" font-size="6.6" text-anchor="end">40</text>
<text x="11.4" y="315.85" font-size="6.6" text-anchor="end">60</text>
<text x="11.4" y="305.35" font-size="6.6" text-anchor="end">80</text>
<text x="11.4" y="294.85" font-size="6.6" text-anchor="end">100</text>
<line x1="8.8" y1="355.2" x2="515" y2="355.2" stroke="#e0362c" stroke-width="1.25"/>
<text x="284.5" y="365.6" font-size="8" text-anchor="middle" style="fill:#d8382e;stroke:#d8382e">CD206</text>
<text x="3" y="390.2" font-size="14.3" font-weight="bold">D</text>
<rect x="57.8" y="512.64" width="8.4" height="7.06" fill="#8c8c8c"/>
<line x1="62" y1="512.64" x2="62" y2="511.88" stroke="#000000" stroke-width="1.5"/>
<line x1="59.55" y1="511.88" x2="64.45" y2="511.88" stroke="#000000" stroke-width="1.7"/>
<rect x="69.25" y="510.62" width="8.9" height="9.08" fill="#10c810"/>
<line x1="73.7" y1="510.62" x2="73.7" y2="508.85" stroke="#000000" stroke-width="1.5"/>
<line x1="71.25" y1="508.85" x2="76.15" y2="508.85" stroke="#000000" stroke-width="1.7"/>
<rect x="80.75" y="512.13" width="8.9" height="7.57" fill="#10c810"/>
<line x1="85.2" y1="512.13" x2="85.2" y2="511.38" stroke="#000000" stroke-width="1.5"/>
<line x1="82.75" y1="511.38" x2="87.65" y2="511.38" stroke="#000000" stroke-width="1.7"/>
<rect x="92.25" y="483.88" width="8.9" height="35.82" fill="#0606f6"/>
<line x1="96.7" y1="483.88" x2="96.7" y2="480.35" stroke="#000000" stroke-width="1.5"/>
<line x1="94.25" y1="480.35" x2="99.15" y2="480.35" stroke="#000000" stroke-width="1.7"/>
<rect x="103.75" y="444.03" width="8.9" height="75.68" fill="#0606f6"/>
<line x1="108.2" y1="444.03" x2="108.2" y2="434.94" stroke="#000000" stroke-width="1.5"/>
<line x1="105.75" y1="434.94" x2="110.65" y2="434.94" stroke="#000000" stroke-width="1.7"/>
<rect x="115.25" y="510.62" width="8.9" height="9.08" fill="#10c810"/>
<line x1="119.7" y1="510.62" x2="119.7" y2="509.36" stroke="#000000" stroke-width="1.5"/>
<line x1="117.25" y1="509.36" x2="122.15" y2="509.36" stroke="#000000" stroke-width="1.7"/>
<rect x="126.75" y="510.11" width="8.9" height="9.59" fill="#10c810"/>
<line x1="131.2" y1="510.11" x2="131.2" y2="507.34" stroke="#000000" stroke-width="1.5"/>
<line x1="128.75" y1="507.34" x2="133.65" y2="507.34" stroke="#000000" stroke-width="1.7"/>
<rect x="138" y="474.3" width="8.9" height="45.41" fill="#0606f6"/>
<line x1="142.45" y1="474.3" x2="142.45" y2="471.77" stroke="#000000" stroke-width="1.5"/>
<line x1="140" y1="471.77" x2="144.9" y2="471.77" stroke="#000000" stroke-width="1.7"/>
<rect x="149.5" y="428.89" width="8.9" height="90.81" fill="#0606f6"/>
<line x1="153.95" y1="428.89" x2="153.95" y2="424.35" stroke="#000000" stroke-width="1.5"/>
<line x1="151.5" y1="424.35" x2="156.4" y2="424.35" stroke="#000000" stroke-width="1.7"/>
<rect x="161" y="511.88" width="8.9" height="7.82" fill="#10c810"/>
<line x1="165.45" y1="511.88" x2="165.45" y2="510.87" stroke="#000000" stroke-width="1.5"/>
<line x1="163" y1="510.87" x2="167.9" y2="510.87" stroke="#000000" stroke-width="1.7"/>
<rect x="172.5" y="510.11" width="8.9" height="9.59" fill="#10c810"/>
<line x1="176.95" y1="510.11" x2="176.95" y2="507.09" stroke="#000000" stroke-width="1.5"/>
<line x1="174.5" y1="507.09" x2="179.4" y2="507.09" stroke="#000000" stroke-width="1.7"/>
<rect x="184" y="490.19" width="8.9" height="29.51" fill="#0606f6"/>
<line x1="188.45" y1="490.19" x2="188.45" y2="484.13" stroke="#000000" stroke-width="1.5"/>
<line x1="186" y1="484.13" x2="190.9" y2="484.13" stroke="#000000" stroke-width="1.7"/>
<rect x="195.5" y="459.16" width="8.9" height="60.54" fill="#0606f6"/>
<line x1="199.95" y1="459.16" x2="199.95" y2="455.63" stroke="#000000" stroke-width="1.5"/>
<line x1="197.5" y1="455.63" x2="202.4" y2="455.63" stroke="#000000" stroke-width="1.7"/>
<line x1="56.7" y1="418.3" x2="56.7" y2="520.2" stroke="#000000" stroke-width="1.15"/>
<line x1="56.2" y1="519.7" x2="206.2" y2="519.7" stroke="#000000" stroke-width="1.15"/>
<line x1="53.8" y1="519.7" x2="56.7" y2="519.7" stroke="#000000" stroke-width="1.15"/>
<text x="53" y="522.85" font-size="8.7" text-anchor="end">0</text>
<line x1="53.8" y1="494.48" x2="56.7" y2="494.48" stroke="#000000" stroke-width="1.15"/>
<text x="53" y="497.62" font-size="8.7" text-anchor="end">1</text>
<line x1="53.8" y1="469.25" x2="56.7" y2="469.25" stroke="#000000" stroke-width="1.15"/>
<text x="53" y="472.4" font-size="8.7" text-anchor="end">2</text>
<line x1="53.8" y1="444.03" x2="56.7" y2="444.03" stroke="#000000" stroke-width="1.15"/>
<text x="53" y="447.17" font-size="8.7" text-anchor="end">3</text>
<line x1="53.8" y1="418.8" x2="56.7" y2="418.8" stroke="#000000" stroke-width="1.15"/>
<text x="53" y="421.95" font-size="8.7" text-anchor="end">4</text>
<text x="38.4" y="466" font-size="8.4" text-anchor="middle" transform="rotate(-90 38.4 466)">(ng/mL)</text>
<text x="130.5" y="388.8" font-size="8.5" text-anchor="middle">CCL17</text>
<line x1="60.8" y1="400.6" x2="201.2" y2="400.6" stroke="#000000" stroke-width="1.15"/>
<text x="129.75" y="400.9" font-size="9.2" text-anchor="middle" letter-spacing="0.75">***</text>
<line x1="60.8" y1="407.1" x2="183" y2="407.1" stroke="#000000" stroke-width="1.15"/>
<text x="123.25" y="407.4" font-size="9.2" text-anchor="middle" letter-spacing="0.75">**</text>
<line x1="187" y1="407.1" x2="199.5" y2="407.1" stroke="#000000" stroke-width="1.15"/>
<text x="193.55" y="407.4" font-size="9.2" text-anchor="middle" letter-spacing="0.75">**</text>
<line x1="60.8" y1="413.8" x2="152.5" y2="413.8" stroke="#000000" stroke-width="1.15"/>
<text x="109.25" y="414.1" font-size="9.2" text-anchor="middle" letter-spacing="0.75">***</text>
<line x1="60.8" y1="420.5" x2="135.5" y2="420.5" stroke="#000000" stroke-width="1.15"/>
<text x="101.75" y="420.8" font-size="9.2" text-anchor="middle" letter-spacing="0.75">***</text>
<line x1="139.5" y1="420.5" x2="152.5" y2="420.5" stroke="#000000" stroke-width="1.15"/>
<text x="146.25" y="420.8" font-size="9.2" text-anchor="middle" letter-spacing="0.75">***</text>
<line x1="60.8" y1="427" x2="104.5" y2="427" stroke="#000000" stroke-width="1.15"/>
<text x="86.75" y="427.3" font-size="9.2" text-anchor="middle" letter-spacing="0.75">***</text>
<line x1="60.8" y1="433.3" x2="90.5" y2="433.3" stroke="#000000" stroke-width="1.15"/>
<text x="78.25" y="433.6" font-size="9.2" text-anchor="middle" letter-spacing="0.75">***</text>
<line x1="93.5" y1="433.3" x2="104.5" y2="433.3" stroke="#000000" stroke-width="1.15"/>
<text x="99.25" y="433.6" font-size="9.2" text-anchor="middle" letter-spacing="0.75">**</text>
<rect x="58.3" y="651.98" width="8.4" height="4.02" fill="#8c8c8c"/>
<line x1="62.5" y1="651.98" x2="62.5" y2="651.35" stroke="#000000" stroke-width="1.5"/>
<line x1="60.05" y1="651.35" x2="64.95" y2="651.35" stroke="#000000" stroke-width="1.7"/>
<rect x="69.75" y="651.23" width="8.9" height="4.77" fill="#10c810"/>
<line x1="74.2" y1="651.23" x2="74.2" y2="650.47" stroke="#000000" stroke-width="1.5"/>
<line x1="71.75" y1="650.47" x2="76.65" y2="650.47" stroke="#000000" stroke-width="1.7"/>
<rect x="81.25" y="651.23" width="8.9" height="4.77" fill="#10c810"/>
<line x1="85.7" y1="651.23" x2="85.7" y2="650.47" stroke="#000000" stroke-width="1.5"/>
<line x1="83.25" y1="650.47" x2="88.15" y2="650.47" stroke="#000000" stroke-width="1.7"/>
<rect x="92.75" y="634.64" width="8.9" height="21.36" fill="#0606f6"/>
<line x1="97.2" y1="634.64" x2="97.2" y2="629.62" stroke="#000000" stroke-width="1.5"/>
<line x1="94.75" y1="629.62" x2="99.65" y2="629.62" stroke="#000000" stroke-width="1.7"/>
<rect x="104.25" y="589.42" width="8.9" height="66.58" fill="#0606f6"/>
<line x1="108.7" y1="589.42" x2="108.7" y2="585.65" stroke="#000000" stroke-width="1.5"/>
<line x1="106.25" y1="585.65" x2="111.15" y2="585.65" stroke="#000000" stroke-width="1.7"/>
<rect x="115.75" y="651.85" width="8.9" height="4.15" fill="#10c810"/>
<line x1="120.2" y1="651.85" x2="120.2" y2="650.35" stroke="#000000" stroke-width="1.5"/>
<line x1="117.75" y1="650.35" x2="122.65" y2="650.35" stroke="#000000" stroke-width="1.7"/>
<rect x="127.25" y="651.85" width="8.9" height="4.15" fill="#10c810"/>
<line x1="131.7" y1="651.85" x2="131.7" y2="650.72" stroke="#000000" stroke-width="1.5"/>
<line x1="129.25" y1="650.72" x2="134.15" y2="650.72" stroke="#000000" stroke-width="1.7"/>
<rect x="138.5" y="628.99" width="8.9" height="27.01" fill="#0606f6"/>
<line x1="142.95" y1="628.99" x2="142.95" y2="624.47" stroke="#000000" stroke-width="1.5"/>
<line x1="140.5" y1="624.47" x2="145.4" y2="624.47" stroke="#000000" stroke-width="1.7"/>
<rect x="150" y="586.28" width="8.9" height="69.72" fill="#0606f6"/>
<line x1="154.45" y1="586.28" x2="154.45" y2="577.48" stroke="#000000" stroke-width="1.5"/>
<line x1="152" y1="577.48" x2="156.9" y2="577.48" stroke="#000000" stroke-width="1.7"/>
<rect x="161.5" y="652.86" width="8.9" height="3.14" fill="#10c810"/>
<line x1="165.95" y1="652.86" x2="165.95" y2="652.23" stroke="#000000" stroke-width="1.5"/>
<line x1="163.5" y1="652.23" x2="168.4" y2="652.23" stroke="#000000" stroke-width="1.7"/>
<rect x="173" y="652.86" width="8.9" height="3.14" fill="#10c810"/>
<line x1="177.45" y1="652.86" x2="177.45" y2="652.23" stroke="#000000" stroke-width="1.5"/>
<line x1="175" y1="652.23" x2="179.9" y2="652.23" stroke="#000000" stroke-width="1.7"/>
<rect x="184.5" y="634.64" width="8.9" height="21.36" fill="#0606f6"/>
<line x1="188.95" y1="634.64" x2="188.95" y2="630.88" stroke="#000000" stroke-width="1.5"/>
<line x1="186.5" y1="630.88" x2="191.4" y2="630.88" stroke="#000000" stroke-width="1.7"/>
<rect x="196" y="607.63" width="8.9" height="48.37" fill="#0606f6"/>
<line x1="200.45" y1="607.63" x2="200.45" y2="602.36" stroke="#000000" stroke-width="1.5"/>
<line x1="198" y1="602.36" x2="202.9" y2="602.36" stroke="#000000" stroke-width="1.7"/>
<line x1="57.6" y1="555" x2="57.6" y2="656.5" stroke="#000000" stroke-width="1.15"/>
<line x1="57.1" y1="656" x2="206.8" y2="656" stroke="#000000" stroke-width="1.15"/>
<line x1="54.7" y1="656" x2="57.6" y2="656" stroke="#000000" stroke-width="1.15"/>
<text x="53.9" y="656.35" font-size="8.7" text-anchor="end">0</text>
<line x1="54.7" y1="630.88" x2="57.6" y2="630.88" stroke="#000000" stroke-width="1.15"/>
<text x="53.9" y="634.02" font-size="8.7" text-anchor="end">2</text>
<line x1="54.7" y1="605.75" x2="57.6" y2="605.75" stroke="#000000" stroke-width="1.15"/>
<text x="53.9" y="608.9" font-size="8.7" text-anchor="end">4</text>
<line x1="54.7" y1="580.62" x2="57.6" y2="580.62" stroke="#000000" stroke-width="1.15"/>
<text x="53.9" y="583.77" font-size="8.7" text-anchor="end">6</text>
<line x1="54.7" y1="555.5" x2="57.6" y2="555.5" stroke="#000000" stroke-width="1.15"/>
<text x="53.9" y="558.65" font-size="8.7" text-anchor="end">8</text>
<text x="38.4" y="603" font-size="8.4" text-anchor="middle" transform="rotate(-90 38.4 603)">(ng/mL)</text>
<text x="133" y="537.6" font-size="8.5" text-anchor="middle">CCL18</text>
<line x1="63" y1="550.5" x2="203" y2="550.5" stroke="#000000" stroke-width="1.15"/>
<text x="132.25" y="550.8" font-size="9.2" text-anchor="middle" letter-spacing="0.75">***</text>
<line x1="63" y1="557.2" x2="185" y2="557.2" stroke="#000000" stroke-width="1.15"/>
<text x="125.75" y="557.5" font-size="9.2" text-anchor="middle" letter-spacing="0.75">**</text>
<line x1="189" y1="557.2" x2="202" y2="557.2" stroke="#000000" stroke-width="1.15"/>
<text x="195.75" y="557.5" font-size="9.2" text-anchor="middle" letter-spacing="0.75">**</text>
<line x1="63" y1="563.8" x2="155" y2="563.8" stroke="#000000" stroke-width="1.15"/>
<text x="111.75" y="564.1" font-size="9.2" text-anchor="middle" letter-spacing="0.75">***</text>
<line x1="63" y1="570.3" x2="138" y2="570.3" stroke="#000000" stroke-width="1.15"/>
<text x="101.25" y="570.6" font-size="9.2" text-anchor="middle" letter-spacing="0.75">**</text>
<line x1="142" y1="570.3" x2="155" y2="570.3" stroke="#000000" stroke-width="1.15"/>
<text x="148.25" y="570.6" font-size="9.2" text-anchor="middle" letter-spacing="0.75">**</text>
<line x1="63" y1="576.5" x2="107" y2="576.5" stroke="#000000" stroke-width="1.15"/>
<text x="88.25" y="576.8" font-size="9.2" text-anchor="middle" letter-spacing="0.75">***</text>
<line x1="63" y1="582.8" x2="93" y2="582.8" stroke="#000000" stroke-width="1.15"/>
<text x="78.75" y="583.1" font-size="9.2" text-anchor="middle" letter-spacing="0.75">**</text>
<line x1="96" y1="582.8" x2="107" y2="582.8" stroke="#000000" stroke-width="1.15"/>
<text x="101.75" y="583.1" font-size="9.2" text-anchor="middle" letter-spacing="0.75">**</text>
<text x="52.9" y="668.4" font-size="8.3" text-anchor="end">CSE</text>
<line x1="59.7" y1="665.6" x2="63.5" y2="665.6" stroke="#000000" stroke-width="1.3"/>
<line x1="71.25" y1="665.6" x2="75.05" y2="665.6" stroke="#000000" stroke-width="1.3"/>
<line x1="82.76" y1="665.4" x2="87.56" y2="665.4" stroke="#000000" stroke-width="1.15"/>
<line x1="85.16" y1="663" x2="85.16" y2="667.8" stroke="#000000" stroke-width="1.15"/>
<line x1="94.66" y1="665.6" x2="98.46" y2="665.6" stroke="#000000" stroke-width="1.3"/>
<line x1="106.17" y1="665.4" x2="110.97" y2="665.4" stroke="#000000" stroke-width="1.15"/>
<line x1="108.57" y1="663" x2="108.57" y2="667.8" stroke="#000000" stroke-width="1.15"/>
<line x1="118.08" y1="665.6" x2="121.88" y2="665.6" stroke="#000000" stroke-width="1.3"/>
<line x1="129.58" y1="665.4" x2="134.38" y2="665.4" stroke="#000000" stroke-width="1.15"/>
<line x1="131.98" y1="663" x2="131.98" y2="667.8" stroke="#000000" stroke-width="1.15"/>
<line x1="141.49" y1="665.6" x2="145.29" y2="665.6" stroke="#000000" stroke-width="1.3"/>
<line x1="153" y1="665.4" x2="157.8" y2="665.4" stroke="#000000" stroke-width="1.15"/>
<line x1="155.4" y1="663" x2="155.4" y2="667.8" stroke="#000000" stroke-width="1.15"/>
<line x1="164.9" y1="665.6" x2="168.7" y2="665.6" stroke="#000000" stroke-width="1.3"/>
<line x1="176.41" y1="665.4" x2="181.21" y2="665.4" stroke="#000000" stroke-width="1.15"/>
<line x1="178.81" y1="663" x2="178.81" y2="667.8" stroke="#000000" stroke-width="1.15"/>
<line x1="188.32" y1="665.6" x2="192.12" y2="665.6" stroke="#000000" stroke-width="1.3"/>
<line x1="199.83" y1="665.4" x2="204.63" y2="665.4" stroke="#000000" stroke-width="1.15"/>
<line x1="202.23" y1="663" x2="202.23" y2="667.8" stroke="#000000" stroke-width="1.15"/>
<line x1="69.85" y1="670" x2="87.98" y2="670" stroke="#000000" stroke-width="1.1"/>
<text x="69.3" y="678.8" font-size="8.2" textLength="16.2" lengthAdjust="spacingAndGlyphs">EBV</text>
<text x="85.8" y="675.6" font-size="4.6" font-weight="bold">−</text>
<line x1="93.49" y1="670" x2="111.63" y2="670" stroke="#000000" stroke-width="1.1"/>
<text x="93.24" y="678.8" font-size="8.2" textLength="16.2" lengthAdjust="spacingAndGlyphs">EBV</text>
<text x="109.74" y="675.6" font-size="4.6" font-weight="bold">+</text>
<line x1="117.14" y1="670" x2="135.27" y2="670" stroke="#000000" stroke-width="1.1"/>
<text x="117.18" y="678.8" font-size="8.2" textLength="16.2" lengthAdjust="spacingAndGlyphs">EBV</text>
<text x="133.68" y="675.6" font-size="4.6" font-weight="bold">−</text>
<line x1="140.78" y1="670" x2="158.91" y2="670" stroke="#000000" stroke-width="1.1"/>
<text x="141.12" y="678.8" font-size="8.2" textLength="16.2" lengthAdjust="spacingAndGlyphs">EBV</text>
<text x="157.62" y="675.6" font-size="4.6" font-weight="bold">+</text>
<line x1="164.42" y1="670" x2="182.56" y2="670" stroke="#000000" stroke-width="1.1"/>
<text x="165.07" y="678.8" font-size="8.2" textLength="16.2" lengthAdjust="spacingAndGlyphs">EBV</text>
<text x="181.57" y="675.6" font-size="4.6" font-weight="bold">−</text>
<line x1="188.07" y1="670" x2="206.2" y2="670" stroke="#000000" stroke-width="1.1"/>
<text x="189.01" y="678.8" font-size="8.2" textLength="16.2" lengthAdjust="spacingAndGlyphs">EBV</text>
<text x="205.51" y="675.6" font-size="4.6" font-weight="bold">+</text>
<line x1="68.4" y1="680.6" x2="110.29" y2="680.6" stroke="#000000" stroke-width="1.1"/>
<text x="88.03" y="689.2" font-size="8.3" text-anchor="middle">CNE2</text>
<line x1="116.15" y1="680.6" x2="158.04" y2="680.6" stroke="#000000" stroke-width="1.1"/>
<text x="136.78" y="689.2" font-size="8.3" text-anchor="middle">HNE1</text>
<line x1="163.89" y1="680.6" x2="205.78" y2="680.6" stroke="#000000" stroke-width="1.1"/>
<text x="184.52" y="689.2" font-size="8.3" text-anchor="middle">HK1</text>
<text x="65.3" y="674.6" font-size="8.8" text-anchor="end" transform="rotate(-45 65.3 674.6)">Control</text>
<rect x="324.6" y="511.04" width="8.4" height="8.26" fill="#8c8c8c"/>
<line x1="328.8" y1="511.04" x2="328.8" y2="510.29" stroke="#000000" stroke-width="1.5"/>
<line x1="326.35" y1="510.29" x2="331.25" y2="510.29" stroke="#000000" stroke-width="1.7"/>
<rect x="336" y="512.04" width="8.9" height="7.26" fill="#10c810"/>
<line x1="340.45" y1="512.04" x2="340.45" y2="511.29" stroke="#000000" stroke-width="1.5"/>
<line x1="338" y1="511.29" x2="342.9" y2="511.29" stroke="#000000" stroke-width="1.7"/>
<rect x="347.5" y="508.04" width="8.9" height="11.26" fill="#10c810"/>
<line x1="351.95" y1="508.04" x2="351.95" y2="506.79" stroke="#000000" stroke-width="1.5"/>
<line x1="349.5" y1="506.79" x2="354.4" y2="506.79" stroke="#000000" stroke-width="1.7"/>
<rect x="359.25" y="491.77" width="8.9" height="27.53" fill="#0606f6"/>
<line x1="363.7" y1="491.77" x2="363.7" y2="488.52" stroke="#000000" stroke-width="1.5"/>
<line x1="361.25" y1="488.52" x2="366.15" y2="488.52" stroke="#000000" stroke-width="1.7"/>
<rect x="371" y="456.74" width="8.9" height="62.56" fill="#0606f6"/>
<line x1="375.45" y1="456.74" x2="375.45" y2="452.23" stroke="#000000" stroke-width="1.5"/>
<line x1="373" y1="452.23" x2="377.9" y2="452.23" stroke="#000000" stroke-width="1.7"/>
<rect x="382.75" y="513.29" width="8.9" height="6.01" fill="#10c810"/>
<line x1="387.2" y1="513.29" x2="387.2" y2="512.54" stroke="#000000" stroke-width="1.5"/>
<line x1="384.75" y1="512.54" x2="389.65" y2="512.54" stroke="#000000" stroke-width="1.7"/>
<rect x="394.25" y="509.79" width="8.9" height="9.51" fill="#10c810"/>
<line x1="398.7" y1="509.79" x2="398.7" y2="507.54" stroke="#000000" stroke-width="1.5"/>
<line x1="396.25" y1="507.54" x2="401.15" y2="507.54" stroke="#000000" stroke-width="1.7"/>
<rect x="406" y="480.51" width="8.9" height="38.79" fill="#0606f6"/>
<line x1="410.45" y1="480.51" x2="410.45" y2="477.26" stroke="#000000" stroke-width="1.5"/>
<line x1="408" y1="477.26" x2="412.9" y2="477.26" stroke="#000000" stroke-width="1.7"/>
<rect x="417.5" y="447.98" width="8.9" height="71.32" fill="#0606f6"/>
<line x1="421.95" y1="447.98" x2="421.95" y2="444.22" stroke="#000000" stroke-width="1.5"/>
<line x1="419.5" y1="444.22" x2="424.4" y2="444.22" stroke="#000000" stroke-width="1.7"/>
<rect x="429.25" y="513.29" width="8.9" height="6.01" fill="#10c810"/>
<line x1="433.7" y1="513.29" x2="433.7" y2="512.79" stroke="#000000" stroke-width="1.5"/>
<line x1="431.25" y1="512.79" x2="436.15" y2="512.79" stroke="#000000" stroke-width="1.7"/>
<rect x="440.75" y="510.29" width="8.9" height="9.01" fill="#10c810"/>
<line x1="445.2" y1="510.29" x2="445.2" y2="507.54" stroke="#000000" stroke-width="1.5"/>
<line x1="442.75" y1="507.54" x2="447.65" y2="507.54" stroke="#000000" stroke-width="1.7"/>
<rect x="452.5" y="492.27" width="8.9" height="27.03" fill="#0606f6"/>
<line x1="456.95" y1="492.27" x2="456.95" y2="487.52" stroke="#000000" stroke-width="1.5"/>
<line x1="454.5" y1="487.52" x2="459.4" y2="487.52" stroke="#000000" stroke-width="1.7"/>
<rect x="464" y="468" width="8.9" height="51.3" fill="#0606f6"/>
<line x1="468.45" y1="468" x2="468.45" y2="461.49" stroke="#000000" stroke-width="1.5"/>
<line x1="466" y1="461.49" x2="470.9" y2="461.49" stroke="#000000" stroke-width="1.7"/>
<line x1="323.8" y1="418.7" x2="323.8" y2="519.8" stroke="#000000" stroke-width="1.15"/>
<line x1="323.3" y1="519.3" x2="475.5" y2="519.3" stroke="#000000" stroke-width="1.15"/>
<line x1="320.9" y1="519.3" x2="323.8" y2="519.3" stroke="#000000" stroke-width="1.15"/>
<text x="320.1" y="522.45" font-size="8.7" text-anchor="end">0</text>
<line x1="320.9" y1="494.27" x2="323.8" y2="494.27" stroke="#000000" stroke-width="1.15"/>
<text x="320.1" y="497.42" font-size="8.7" text-anchor="end">1</text>
<line x1="320.9" y1="469.25" x2="323.8" y2="469.25" stroke="#000000" stroke-width="1.15"/>
<text x="320.1" y="472.4" font-size="8.7" text-anchor="end">2</text>
<line x1="320.9" y1="444.22" x2="323.8" y2="444.22" stroke="#000000" stroke-width="1.15"/>
<text x="320.1" y="447.37" font-size="8.7" text-anchor="end">3</text>
<line x1="320.9" y1="419.2" x2="323.8" y2="419.2" stroke="#000000" stroke-width="1.15"/>
<text x="320.1" y="422.35" font-size="8.7" text-anchor="end">4</text>
<text x="301.8" y="466" font-size="8.4" text-anchor="middle" transform="rotate(-90 301.8 466)">(ng/mL)</text>
<text x="404.2" y="388.8" font-size="8.5" text-anchor="middle">IL10</text>
<line x1="328.8" y1="400.8" x2="469" y2="400.8" stroke="#000000" stroke-width="1.15"/>
<text x="397.25" y="401.1" font-size="9.2" text-anchor="middle" letter-spacing="0.75">***</text>
<line x1="328.8" y1="407.5" x2="451" y2="407.5" stroke="#000000" stroke-width="1.15"/>
<text x="391.25" y="407.8" font-size="9.2" text-anchor="middle" letter-spacing="0.75">**</text>
<line x1="455" y1="407.5" x2="468" y2="407.5" stroke="#000000" stroke-width="1.15"/>
<text x="461.75" y="407.8" font-size="9.2" text-anchor="middle" letter-spacing="0.75">**</text>
<line x1="328.8" y1="414.2" x2="420.5" y2="414.2" stroke="#000000" stroke-width="1.15"/>
<text x="377.25" y="414.5" font-size="9.2" text-anchor="middle" letter-spacing="0.75">***</text>
<line x1="328.8" y1="420.8" x2="403.5" y2="420.8" stroke="#000000" stroke-width="1.15"/>
<text x="369.75" y="421.1" font-size="9.2" text-anchor="middle" letter-spacing="0.75">***</text>
<line x1="407.5" y1="420.8" x2="420.5" y2="420.8" stroke="#000000" stroke-width="1.15"/>
<text x="414.25" y="421.1" font-size="9.2" text-anchor="middle" letter-spacing="0.75">***</text>
<line x1="328.8" y1="427.3" x2="372.5" y2="427.3" stroke="#000000" stroke-width="1.15"/>
<text x="354.75" y="427.6" font-size="9.2" text-anchor="middle" letter-spacing="0.75">***</text>
<line x1="328.8" y1="433.5" x2="358.5" y2="433.5" stroke="#000000" stroke-width="1.15"/>
<text x="346.25" y="433.8" font-size="9.2" text-anchor="middle" letter-spacing="0.75">***</text>
<line x1="361.5" y1="433.5" x2="372.5" y2="433.5" stroke="#000000" stroke-width="1.15"/>
<text x="367.25" y="433.8" font-size="9.2" text-anchor="middle" letter-spacing="0.75">***</text>
<rect x="324.6" y="641.05" width="8.4" height="14.25" fill="#8c8c8c"/>
<line x1="328.8" y1="641.05" x2="328.8" y2="639.01" stroke="#000000" stroke-width="1.5"/>
<line x1="326.35" y1="639.01" x2="331.25" y2="639.01" stroke="#000000" stroke-width="1.7"/>
<rect x="336" y="642.07" width="8.9" height="13.23" fill="#10c810"/>
<line x1="340.45" y1="642.07" x2="340.45" y2="641.05" stroke="#000000" stroke-width="1.5"/>
<line x1="338" y1="641.05" x2="342.9" y2="641.05" stroke="#000000" stroke-width="1.7"/>
<rect x="347.5" y="640.03" width="8.9" height="15.27" fill="#10c810"/>
<line x1="351.95" y1="640.03" x2="351.95" y2="639.27" stroke="#000000" stroke-width="1.5"/>
<line x1="349.5" y1="639.27" x2="354.4" y2="639.27" stroke="#000000" stroke-width="1.7"/>
<rect x="359.25" y="623.74" width="8.9" height="31.56" fill="#0606f6"/>
<line x1="363.7" y1="623.74" x2="363.7" y2="623.23" stroke="#000000" stroke-width="1.5"/>
<line x1="361.25" y1="623.23" x2="366.15" y2="623.23" stroke="#000000" stroke-width="1.7"/>
<rect x="371" y="593.71" width="8.9" height="61.59" fill="#0606f6"/>
<line x1="375.45" y1="593.71" x2="375.45" y2="589.38" stroke="#000000" stroke-width="1.5"/>
<line x1="373" y1="589.38" x2="377.9" y2="589.38" stroke="#000000" stroke-width="1.7"/>
<rect x="382.75" y="646.65" width="8.9" height="8.65" fill="#10c810"/>
<line x1="387.2" y1="646.65" x2="387.2" y2="645.63" stroke="#000000" stroke-width="1.5"/>
<line x1="384.75" y1="645.63" x2="389.65" y2="645.63" stroke="#000000" stroke-width="1.7"/>
<rect x="394.25" y="644.1" width="8.9" height="11.2" fill="#10c810"/>
<line x1="398.7" y1="644.1" x2="398.7" y2="643.08" stroke="#000000" stroke-width="1.5"/>
<line x1="396.25" y1="643.08" x2="401.15" y2="643.08" stroke="#000000" stroke-width="1.7"/>
<rect x="406" y="618.14" width="8.9" height="37.16" fill="#0606f6"/>
<line x1="410.45" y1="618.14" x2="410.45" y2="614.07" stroke="#000000" stroke-width="1.5"/>
<line x1="408" y1="614.07" x2="412.9" y2="614.07" stroke="#000000" stroke-width="1.7"/>
<rect x="417.5" y="574.88" width="8.9" height="80.42" fill="#0606f6"/>
<line x1="421.95" y1="574.88" x2="421.95" y2="571.82" stroke="#000000" stroke-width="1.5"/>
<line x1="419.5" y1="571.82" x2="424.4" y2="571.82" stroke="#000000" stroke-width="1.7"/>
<rect x="429.25" y="643.08" width="8.9" height="12.22" fill="#10c810"/>
<line x1="433.7" y1="643.08" x2="433.7" y2="642.07" stroke="#000000" stroke-width="1.5"/>
<line x1="431.25" y1="642.07" x2="436.15" y2="642.07" stroke="#000000" stroke-width="1.7"/>
<rect x="440.75" y="645.12" width="8.9" height="10.18" fill="#10c810"/>
<line x1="445.2" y1="645.12" x2="445.2" y2="644.61" stroke="#000000" stroke-width="1.5"/>
<line x1="442.75" y1="644.61" x2="447.65" y2="644.61" stroke="#000000" stroke-width="1.7"/>
<rect x="452.5" y="631.89" width="8.9" height="23.41" fill="#0606f6"/>
<line x1="456.95" y1="631.89" x2="456.95" y2="628.83" stroke="#000000" stroke-width="1.5"/>
<line x1="454.5" y1="628.83" x2="459.4" y2="628.83" stroke="#000000" stroke-width="1.7"/>
<rect x="464" y="590.66" width="8.9" height="64.64" fill="#0606f6"/>
<line x1="468.45" y1="590.66" x2="468.45" y2="586.33" stroke="#000000" stroke-width="1.5"/>
<line x1="466" y1="586.33" x2="470.9" y2="586.33" stroke="#000000" stroke-width="1.7"/>
<line x1="323.6" y1="553" x2="323.6" y2="655.8" stroke="#000000" stroke-width="1.15"/>
<line x1="323.1" y1="655.3" x2="475.5" y2="655.3" stroke="#000000" stroke-width="1.15"/>
<line x1="320.7" y1="655.3" x2="323.6" y2="655.3" stroke="#000000" stroke-width="1.15"/>
<text x="319.9" y="657.05" font-size="8.7" text-anchor="end">0.0</text>
<line x1="320.7" y1="629.85" x2="323.6" y2="629.85" stroke="#000000" stroke-width="1.15"/>
<text x="319.9" y="633" font-size="8.7" text-anchor="end">0.5</text>
<line x1="320.7" y1="604.4" x2="323.6" y2="604.4" stroke="#000000" stroke-width="1.15"/>
<text x="319.9" y="607.55" font-size="8.7" text-anchor="end">1.0</text>
<line x1="320.7" y1="578.95" x2="323.6" y2="578.95" stroke="#000000" stroke-width="1.15"/>
<text x="319.9" y="582.1" font-size="8.7" text-anchor="end">1.5</text>
<line x1="320.7" y1="553.5" x2="323.6" y2="553.5" stroke="#000000" stroke-width="1.15"/>
<text x="319.9" y="556.65" font-size="8.7" text-anchor="end">2.0</text>
<text x="301.8" y="603" font-size="8.4" text-anchor="middle" transform="rotate(-90 301.8 603)">(ng/mL)</text>
<text x="404.5" y="537.6" font-size="8.5" text-anchor="middle">CCL22</text>
<line x1="332.5" y1="549" x2="472" y2="549" stroke="#000000" stroke-width="1.15"/>
<text x="400.75" y="549.3" font-size="9.2" text-anchor="middle" letter-spacing="0.75">***</text>
<line x1="332.5" y1="556" x2="454.5" y2="556" stroke="#000000" stroke-width="1.15"/>
<text x="394.25" y="556.3" font-size="9.2" text-anchor="middle" letter-spacing="0.75">**</text>
<line x1="458.5" y1="556" x2="472" y2="556" stroke="#000000" stroke-width="1.15"/>
<text x="465.25" y="556.3" font-size="9.2" text-anchor="middle" letter-spacing="0.75">***</text>
<line x1="332.5" y1="562.5" x2="424" y2="562.5" stroke="#000000" stroke-width="1.15"/>
<text x="380.75" y="562.8" font-size="9.2" text-anchor="middle" letter-spacing="0.75">***</text>
<line x1="332.5" y1="569" x2="407" y2="569" stroke="#000000" stroke-width="1.15"/>
<text x="373.25" y="569.3" font-size="9.2" text-anchor="middle" letter-spacing="0.75">***</text>
<line x1="411" y1="569" x2="424" y2="569" stroke="#000000" stroke-width="1.15"/>
<text x="417.75" y="569.3" font-size="9.2" text-anchor="middle" letter-spacing="0.75">***</text>
<line x1="332.5" y1="575.8" x2="376" y2="575.8" stroke="#000000" stroke-width="1.15"/>
<text x="358.25" y="576.1" font-size="9.2" text-anchor="middle" letter-spacing="0.75">***</text>
<line x1="332.5" y1="582.5" x2="362" y2="582.5" stroke="#000000" stroke-width="1.15"/>
<text x="350.25" y="582.8" font-size="9.2" text-anchor="middle" letter-spacing="0.75">***</text>
<line x1="365" y1="582.5" x2="376" y2="582.5" stroke="#000000" stroke-width="1.15"/>
<text x="370.75" y="582.8" font-size="9.2" text-anchor="middle" letter-spacing="0.75">***</text>
<text x="319.8" y="669.8" font-size="8.3" text-anchor="end">CSE</text>
<line x1="326" y1="668.3" x2="329.8" y2="668.3" stroke="#000000" stroke-width="1.3"/>
<line x1="336.85" y1="668.3" x2="340.65" y2="668.3" stroke="#000000" stroke-width="1.3"/>
<line x1="348.46" y1="668.1" x2="353.26" y2="668.1" stroke="#000000" stroke-width="1.15"/>
<line x1="350.86" y1="665.7" x2="350.86" y2="670.5" stroke="#000000" stroke-width="1.15"/>
<line x1="360.47" y1="668.3" x2="364.27" y2="668.3" stroke="#000000" stroke-width="1.3"/>
<line x1="372.08" y1="668.1" x2="376.88" y2="668.1" stroke="#000000" stroke-width="1.15"/>
<line x1="374.48" y1="665.7" x2="374.48" y2="670.5" stroke="#000000" stroke-width="1.15"/>
<line x1="384.09" y1="668.3" x2="387.89" y2="668.3" stroke="#000000" stroke-width="1.3"/>
<line x1="395.7" y1="668.1" x2="400.5" y2="668.1" stroke="#000000" stroke-width="1.15"/>
<line x1="398.1" y1="665.7" x2="398.1" y2="670.5" stroke="#000000" stroke-width="1.15"/>
<line x1="407.72" y1="668.3" x2="411.52" y2="668.3" stroke="#000000" stroke-width="1.3"/>
<line x1="419.33" y1="668.1" x2="424.13" y2="668.1" stroke="#000000" stroke-width="1.15"/>
<line x1="421.73" y1="665.7" x2="421.73" y2="670.5" stroke="#000000" stroke-width="1.15"/>
<line x1="431.34" y1="668.3" x2="435.14" y2="668.3" stroke="#000000" stroke-width="1.3"/>
<line x1="442.95" y1="668.1" x2="447.75" y2="668.1" stroke="#000000" stroke-width="1.15"/>
<line x1="445.35" y1="665.7" x2="445.35" y2="670.5" stroke="#000000" stroke-width="1.15"/>
<line x1="454.96" y1="668.3" x2="458.76" y2="668.3" stroke="#000000" stroke-width="1.3"/>
<line x1="466.57" y1="668.1" x2="471.37" y2="668.1" stroke="#000000" stroke-width="1.15"/>
<line x1="468.97" y1="665.7" x2="468.97" y2="670.5" stroke="#000000" stroke-width="1.15"/>
<line x1="336.1" y1="672.2" x2="354.49" y2="672.2" stroke="#000000" stroke-width="1.1"/>
<text x="336.1" y="681" font-size="8.2" textLength="16.2" lengthAdjust="spacingAndGlyphs">EBV</text>
<text x="352.6" y="677.8" font-size="4.6" font-weight="bold">−</text>
<line x1="360.07" y1="672.2" x2="378.46" y2="672.2" stroke="#000000" stroke-width="1.1"/>
<text x="359.77" y="681" font-size="8.2" textLength="16.2" lengthAdjust="spacingAndGlyphs">EBV</text>
<text x="376.27" y="677.8" font-size="4.6" font-weight="bold">+</text>
<line x1="384.04" y1="672.2" x2="402.43" y2="672.2" stroke="#000000" stroke-width="1.1"/>
<text x="383.44" y="681" font-size="8.2" textLength="16.2" lengthAdjust="spacingAndGlyphs">EBV</text>
<text x="399.94" y="677.8" font-size="4.6" font-weight="bold">−</text>
<line x1="408.01" y1="672.2" x2="426.4" y2="672.2" stroke="#000000" stroke-width="1.1"/>
<text x="407.11" y="681" font-size="8.2" textLength="16.2" lengthAdjust="spacingAndGlyphs">EBV</text>
<text x="423.61" y="677.8" font-size="4.6" font-weight="bold">+</text>
<line x1="431.98" y1="672.2" x2="450.37" y2="672.2" stroke="#000000" stroke-width="1.1"/>
<text x="430.77" y="681" font-size="8.2" textLength="16.2" lengthAdjust="spacingAndGlyphs">EBV</text>
<text x="447.27" y="677.8" font-size="4.6" font-weight="bold">−</text>
<line x1="455.95" y1="672.2" x2="474.34" y2="672.2" stroke="#000000" stroke-width="1.1"/>
<text x="454.44" y="681" font-size="8.2" textLength="16.2" lengthAdjust="spacingAndGlyphs">EBV</text>
<text x="470.94" y="677.8" font-size="4.6" font-weight="bold">+</text>
<line x1="334.65" y1="682.8" x2="377.12" y2="682.8" stroke="#000000" stroke-width="1.1"/>
<text x="354.15" y="691" font-size="8.3" text-anchor="middle">CNE2</text>
<line x1="383.06" y1="682.8" x2="425.53" y2="682.8" stroke="#000000" stroke-width="1.1"/>
<text x="403.96" y="691" font-size="8.3" text-anchor="middle">HNE1</text>
<line x1="431.46" y1="682.8" x2="473.94" y2="682.8" stroke="#000000" stroke-width="1.1"/>
<text x="452.36" y="691" font-size="8.3" text-anchor="middle">HK1</text>
<text x="332" y="675.8" font-size="8.8" text-anchor="end" transform="rotate(-45 332 675.8)">Control</text>
</svg>
</body>
</html>
